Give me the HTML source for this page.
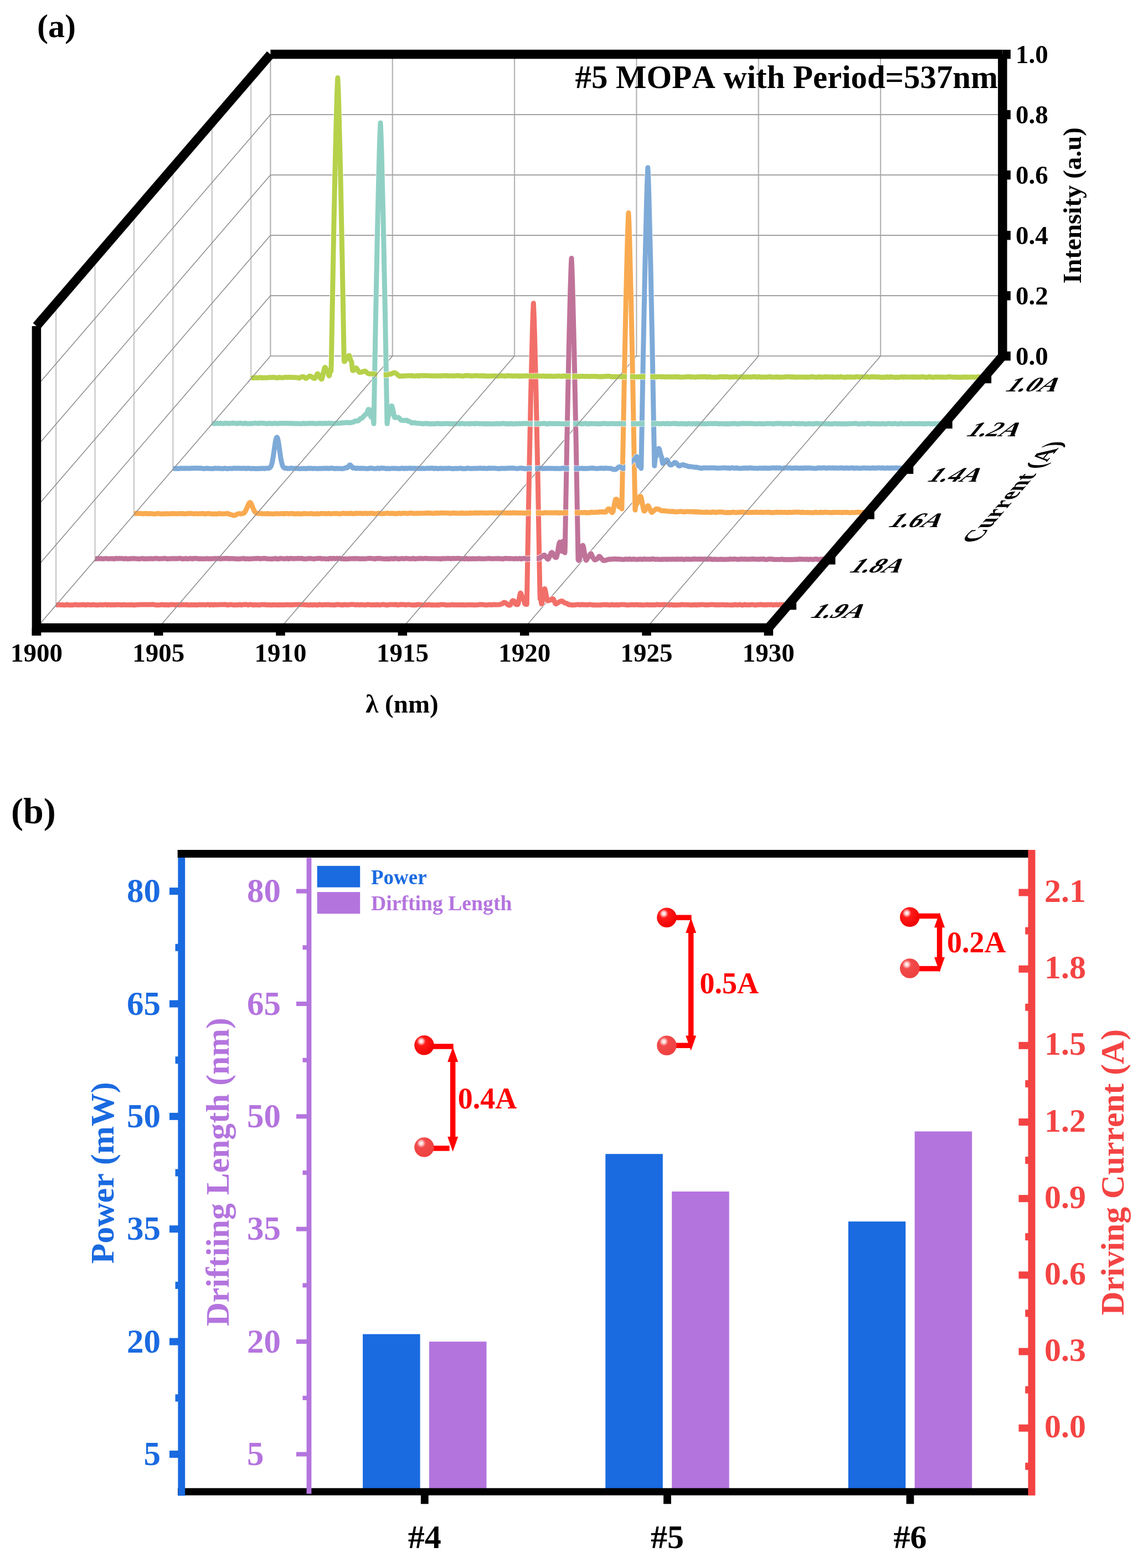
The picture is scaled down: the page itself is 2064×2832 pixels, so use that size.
<!DOCTYPE html>
<html><head><meta charset="utf-8"><title>Figure</title>
<style>html,body{margin:0;padding:0;background:#fff;}body{width:2064px;height:2832px;overflow:hidden;}svg{display:block;}text{font-kerning:none;}</style>
</head><body>
<svg width="2064" height="2832" viewBox="0 0 2064 2832">
<line x1="488.42" y1="643.08" x2="488.42" y2="98.08" stroke="#b4b4b4" stroke-width="2.2" stroke-linecap="butt" />
<line x1="708.75" y1="643.08" x2="708.75" y2="98.08" stroke="#b4b4b4" stroke-width="2.2" stroke-linecap="butt" />
<line x1="929.07" y1="643.08" x2="929.07" y2="98.08" stroke="#b4b4b4" stroke-width="2.2" stroke-linecap="butt" />
<line x1="1149.39" y1="643.08" x2="1149.39" y2="98.08" stroke="#b4b4b4" stroke-width="2.2" stroke-linecap="butt" />
<line x1="1369.72" y1="643.08" x2="1369.72" y2="98.08" stroke="#b4b4b4" stroke-width="2.2" stroke-linecap="butt" />
<line x1="1590.05" y1="643.08" x2="1590.05" y2="98.08" stroke="#b4b4b4" stroke-width="2.2" stroke-linecap="butt" />
<line x1="488.42" y1="534.08" x2="1810.37" y2="534.08" stroke="#a2a2a2" stroke-width="2.0" stroke-linecap="butt" />
<line x1="488.42" y1="425.08" x2="1810.37" y2="425.08" stroke="#a2a2a2" stroke-width="2.0" stroke-linecap="butt" />
<line x1="488.42" y1="316.08" x2="1810.37" y2="316.08" stroke="#a2a2a2" stroke-width="2.0" stroke-linecap="butt" />
<line x1="488.42" y1="207.08" x2="1810.37" y2="207.08" stroke="#a2a2a2" stroke-width="2.0" stroke-linecap="butt" />
<line x1="488.42" y1="643.08" x2="1810.37" y2="643.08" stroke="#8a8a8a" stroke-width="1.5" stroke-linecap="butt" />
<line x1="101.11" y1="1093.09" x2="101.11" y2="548.09" stroke="#c6c6c6" stroke-width="2.2" stroke-linecap="butt" />
<line x1="171.53" y1="1011.27" x2="171.53" y2="466.27" stroke="#c6c6c6" stroke-width="2.2" stroke-linecap="butt" />
<line x1="241.95" y1="929.45" x2="241.95" y2="384.45" stroke="#c6c6c6" stroke-width="2.2" stroke-linecap="butt" />
<line x1="312.37" y1="847.63" x2="312.37" y2="302.63" stroke="#c6c6c6" stroke-width="2.2" stroke-linecap="butt" />
<line x1="382.79" y1="765.81" x2="382.79" y2="220.81" stroke="#c6c6c6" stroke-width="2.2" stroke-linecap="butt" />
<line x1="453.21" y1="683.99" x2="453.21" y2="138.99" stroke="#c6c6c6" stroke-width="2.2" stroke-linecap="butt" />
<line x1="65.90" y1="1134.00" x2="488.42" y2="643.08" stroke="#8a8a8a" stroke-width="1.5" stroke-linecap="butt" />
<line x1="65.90" y1="1025.00" x2="488.42" y2="534.08" stroke="#8a8a8a" stroke-width="1.5" stroke-linecap="butt" />
<line x1="65.90" y1="916.00" x2="488.42" y2="425.08" stroke="#8a8a8a" stroke-width="1.5" stroke-linecap="butt" />
<line x1="65.90" y1="807.00" x2="488.42" y2="316.08" stroke="#8a8a8a" stroke-width="1.5" stroke-linecap="butt" />
<line x1="65.90" y1="698.00" x2="488.42" y2="207.08" stroke="#8a8a8a" stroke-width="1.5" stroke-linecap="butt" />
<line x1="286.23" y1="1134.00" x2="708.75" y2="643.08" stroke="#8a8a8a" stroke-width="1.5" stroke-linecap="butt" />
<line x1="506.55" y1="1134.00" x2="929.07" y2="643.08" stroke="#8a8a8a" stroke-width="1.5" stroke-linecap="butt" />
<line x1="726.87" y1="1134.00" x2="1149.39" y2="643.08" stroke="#8a8a8a" stroke-width="1.5" stroke-linecap="butt" />
<line x1="947.20" y1="1134.00" x2="1369.72" y2="643.08" stroke="#8a8a8a" stroke-width="1.5" stroke-linecap="butt" />
<line x1="1167.53" y1="1134.00" x2="1590.05" y2="643.08" stroke="#8a8a8a" stroke-width="1.5" stroke-linecap="butt" />
<path d="M101.1,1092.4 L103.1,1092.6 L106.1,1092.1 L109.1,1092.6 L112.1,1092.2 L114.6,1092.7 L118.1,1092.8 L121.1,1091.8 L123.6,1092.7 L130.1,1092.7 L133.6,1092.4 L136.1,1091.9 L138.6,1092.4 L145.1,1092.6 L151.1,1092.0 L154.1,1092.8 L156.6,1092.3 L159.6,1092.1 L162.6,1092.6 L166.1,1092.6 L169.1,1091.9 L171.6,1092.6 L175.1,1092.8 L178.6,1092.5 L181.1,1092.1 L183.6,1092.6 L184.6,1092.6 L187.6,1092.3 L190.1,1091.8 L193.1,1092.7 L196.1,1092.0 L199.1,1092.6 L205.1,1092.2 L208.1,1092.4 L211.1,1092.1 L214.1,1092.3 L217.2,1092.2 L220.2,1092.7 L223.2,1092.0 L225.7,1092.5 L229.2,1092.6 L238.2,1092.3 L241.2,1092.8 L244.2,1092.7 L246.7,1092.2 L250.2,1092.3 L252.7,1092.0 L271.2,1092.1 L274.7,1091.8 L277.2,1091.8 L279.7,1092.4 L285.2,1092.8 L289.2,1092.5 L292.2,1091.8 L294.7,1092.4 L301.2,1092.3 L304.2,1092.7 L306.7,1092.3 L309.7,1092.0 L313.2,1092.1 L316.2,1092.6 L322.2,1092.1 L325.2,1092.7 L327.7,1092.1 L331.7,1092.3 L337.2,1091.9 L339.7,1092.7 L343.2,1092.6 L346.2,1092.2 L348.7,1092.4 L352.2,1092.3 L355.2,1092.7 L357.7,1092.3 L361.2,1092.1 L364.2,1092.4 L366.7,1092.0 L370.2,1092.6 L375.7,1091.8 L376.7,1092.0 L378.2,1092.6 L379.2,1092.7 L381.7,1091.9 L385.2,1092.7 L387.7,1091.9 L390.7,1092.2 L393.7,1092.3 L396.7,1092.0 L403.2,1092.1 L406.2,1091.8 L411.7,1092.7 L412.7,1092.6 L414.7,1092.0 L417.7,1092.0 L418.7,1092.1 L420.7,1092.6 L423.7,1092.7 L426.7,1092.3 L430.2,1092.5 L433.2,1091.8 L435.2,1092.5 L436.2,1092.7 L438.7,1092.0 L444.7,1091.8 L448.2,1092.7 L450.2,1092.0 L451.2,1091.8 L454.2,1092.0 L456.7,1092.7 L460.2,1092.2 L462.7,1092.5 L466.2,1092.5 L469.2,1092.7 L471.2,1092.0 L472.2,1091.9 L478.2,1091.9 L480.7,1092.6 L484.2,1092.2 L487.2,1092.4 L490.2,1092.8 L493.2,1092.3 L499.2,1092.4 L501.7,1092.7 L504.7,1092.3 L508.2,1092.6 L510.7,1092.2 L513.8,1092.6 L519.8,1092.1 L522.8,1092.5 L526.3,1092.2 L528.8,1092.5 L531.8,1091.9 L538.3,1092.1 L546.8,1091.9 L558.8,1092.7 L561.8,1092.2 L565.3,1092.7 L568.3,1092.1 L570.3,1092.7 L571.3,1092.8 L574.3,1092.7 L576.8,1091.8 L577.8,1091.9 L579.8,1092.5 L583.3,1092.5 L585.8,1092.1 L588.8,1092.3 L592.3,1092.1 L597.3,1092.6 L601.3,1092.6 L603.8,1092.8 L609.8,1091.8 L618.8,1092.7 L619.8,1092.5 L621.8,1091.9 L628.3,1092.5 L634.3,1091.8 L637.3,1091.8 L642.8,1092.5 L645.8,1092.0 L649.3,1092.6 L652.3,1092.0 L655.3,1092.2 L657.8,1092.7 L661.3,1092.4 L663.8,1091.8 L669.8,1092.6 L675.8,1092.2 L679.3,1092.6 L681.3,1091.9 L682.3,1091.9 L684.8,1092.8 L688.3,1092.4 L690.8,1091.8 L694.3,1092.1 L696.8,1092.7 L699.8,1092.8 L702.8,1092.0 L705.8,1091.9 L709.3,1091.9 L711.8,1092.3 L714.8,1091.8 L715.8,1092.0 L717.8,1092.8 L724.3,1091.8 L730.3,1092.0 L732.8,1092.7 L735.8,1091.9 L739.3,1091.9 L741.3,1092.4 L744.8,1092.8 L747.8,1092.5 L751.3,1092.8 L753.3,1092.1 L756.8,1091.8 L759.3,1092.3 L762.8,1092.7 L765.8,1092.5 L772.3,1092.6 L774.8,1092.0 L777.8,1092.7 L780.8,1092.5 L783.8,1092.8 L786.8,1092.8 L789.8,1092.5 L792.8,1092.8 L793.8,1092.6 L795.3,1092.0 L796.3,1091.9 L802.3,1092.1 L804.9,1092.7 L814.4,1092.6 L816.9,1091.9 L819.9,1092.6 L825.9,1092.4 L831.9,1092.5 L834.9,1092.3 L837.9,1092.8 L844.4,1092.6 L846.9,1092.1 L849.9,1092.5 L853.4,1092.3 L855.9,1092.8 L861.9,1092.6 L864.9,1092.0 L867.9,1091.8 L871.4,1091.9 L873.4,1092.3 L877.4,1092.7 L880.4,1092.6 L882.9,1092.1 L888.9,1092.4 L891.9,1091.8 L894.9,1092.2 L900.4,1092.1 L902.4,1091.9 L906.9,1090.5 L909.4,1088.4 L910.4,1088.0 L911.9,1088.4 L914.4,1089.8 L916.9,1092.0 L917.9,1092.7 L919.9,1093.3 L920.9,1093.0 L921.9,1092.0 L924.9,1085.7 L925.9,1084.8 L926.4,1084.7 L927.4,1085.0 L928.4,1085.9 L930.9,1090.7 L931.4,1091.4 L932.4,1091.8 L934.9,1091.9 L935.4,1091.1 L935.9,1089.6 L938.9,1073.8 L939.4,1072.0 L939.9,1071.2 L940.4,1071.4 L941.4,1073.3 L943.9,1080.8 L944.4,1081.6 L944.9,1081.8 L945.4,1082.6 L947.4,1089.9 L947.9,1090.7 L948.9,1090.6 L949.4,1091.5 L951.3,1091.6 L954.9,889.7 L958.4,717.1 L961.4,597.0 L962.4,566.3 L963.3,547.8 L964.4,572.1 L965.4,604.1 L967.9,704.0 L971.4,874.3 L974.9,1069.2 L975.3,1081.4 L976.4,1081.5 L977.9,1090.8 L978.4,1090.3 L978.9,1088.5 L979.9,1082.9 L982.4,1066.1 L982.9,1064.1 L983.4,1063.3 L983.9,1063.8 L984.4,1065.2 L987.4,1080.5 L988.4,1084.2 L988.9,1085.0 L989.9,1084.9 L991.4,1084.4 L993.4,1084.1 L996.4,1081.8 L997.4,1081.5 L998.4,1081.4 L998.9,1081.8 L999.9,1083.3 L1002.4,1089.3 L1003.4,1090.7 L1003.9,1090.8 L1004.4,1090.6 L1009.9,1087.1 L1012.9,1085.8 L1013.9,1085.5 L1014.9,1085.7 L1016.9,1086.8 L1019.9,1089.1 L1022.4,1089.5 L1024.4,1090.3 L1026.9,1092.1 L1027.9,1092.3 L1030.4,1092.1 L1032.9,1092.8 L1039.4,1092.5 L1041.4,1092.0 L1044.4,1091.9 L1045.4,1091.9 L1047.9,1092.5 L1050.9,1091.8 L1053.4,1092.2 L1057.4,1092.2 L1059.9,1092.5 L1065.9,1091.8 L1068.4,1092.3 L1071.4,1092.7 L1074.9,1092.8 L1084.4,1092.8 L1089.9,1092.0 L1092.9,1092.3 L1095.9,1092.0 L1098.5,1092.5 L1102.0,1092.7 L1105.0,1091.9 L1108.0,1092.7 L1110.5,1092.4 L1114.0,1092.3 L1117.0,1092.8 L1120.0,1092.0 L1126.5,1092.0 L1129.5,1092.3 L1131.5,1092.7 L1134.5,1092.8 L1141.0,1092.0 L1144.0,1092.4 L1150.0,1091.9 L1152.5,1092.4 L1156.0,1092.3 L1159.0,1092.7 L1165.5,1092.5 L1168.0,1092.0 L1171.0,1092.6 L1177.0,1092.3 L1179.5,1092.6 L1183.0,1092.6 L1186.0,1091.8 L1189.0,1092.3 L1198.5,1091.9 L1207.5,1092.3 L1210.0,1092.7 L1213.0,1092.0 L1216.0,1092.8 L1219.0,1092.6 L1222.0,1092.8 L1225.0,1092.5 L1228.0,1092.6 L1231.0,1091.8 L1234.0,1092.2 L1240.0,1092.3 L1243.0,1092.2 L1245.5,1092.6 L1249.0,1092.8 L1255.0,1092.2 L1258.0,1092.8 L1261.0,1092.1 L1264.0,1092.4 L1267.0,1092.0 L1270.5,1092.1 L1273.0,1092.5 L1279.0,1092.6 L1281.5,1092.1 L1288.0,1091.9 L1291.0,1092.5 L1297.0,1092.2 L1300.0,1092.6 L1303.0,1092.1 L1308.5,1092.4 L1312.0,1092.3 L1315.0,1092.6 L1324.0,1092.8 L1327.0,1091.9 L1329.5,1092.5 L1330.5,1092.5 L1333.5,1092.4 L1336.0,1091.8 L1339.0,1092.8 L1342.5,1092.7 L1344.0,1092.0 L1345.0,1091.8 L1348.0,1092.6 L1351.0,1092.4 L1354.0,1092.5 L1356.5,1092.1 L1360.0,1092.1 L1363.0,1092.8 L1366.5,1092.7 L1369.0,1091.9 L1372.0,1092.3 L1375.0,1091.8 L1378.0,1092.6 L1381.0,1092.2 L1384.0,1092.6 L1387.0,1091.8 L1390.0,1092.4 L1393.0,1091.9 L1396.1,1092.8 L1398.6,1092.3 L1402.1,1092.0 L1405.1,1092.4 L1408.1,1091.9 L1411.1,1092.2 L1414.1,1091.9 L1417.1,1092.8 L1423.1,1092.0" fill="none" stroke="#fff" stroke-opacity="0.6" stroke-width="11.4" stroke-linejoin="round"/>
<path d="M101.1,1092.4 L103.1,1092.6 L106.1,1092.1 L109.1,1092.6 L112.1,1092.2 L114.6,1092.7 L118.1,1092.8 L121.1,1091.8 L123.6,1092.7 L130.1,1092.7 L133.6,1092.4 L136.1,1091.9 L138.6,1092.4 L145.1,1092.6 L151.1,1092.0 L154.1,1092.8 L156.6,1092.3 L159.6,1092.1 L162.6,1092.6 L166.1,1092.6 L169.1,1091.9 L171.6,1092.6 L175.1,1092.8 L178.6,1092.5 L181.1,1092.1 L183.6,1092.6 L184.6,1092.6 L187.6,1092.3 L190.1,1091.8 L193.1,1092.7 L196.1,1092.0 L199.1,1092.6 L205.1,1092.2 L208.1,1092.4 L211.1,1092.1 L214.1,1092.3 L217.2,1092.2 L220.2,1092.7 L223.2,1092.0 L225.7,1092.5 L229.2,1092.6 L238.2,1092.3 L241.2,1092.8 L244.2,1092.7 L246.7,1092.2 L250.2,1092.3 L252.7,1092.0 L271.2,1092.1 L274.7,1091.8 L277.2,1091.8 L279.7,1092.4 L285.2,1092.8 L289.2,1092.5 L292.2,1091.8 L294.7,1092.4 L301.2,1092.3 L304.2,1092.7 L306.7,1092.3 L309.7,1092.0 L313.2,1092.1 L316.2,1092.6 L322.2,1092.1 L325.2,1092.7 L327.7,1092.1 L331.7,1092.3 L337.2,1091.9 L339.7,1092.7 L343.2,1092.6 L346.2,1092.2 L348.7,1092.4 L352.2,1092.3 L355.2,1092.7 L357.7,1092.3 L361.2,1092.1 L364.2,1092.4 L366.7,1092.0 L370.2,1092.6 L375.7,1091.8 L376.7,1092.0 L378.2,1092.6 L379.2,1092.7 L381.7,1091.9 L385.2,1092.7 L387.7,1091.9 L390.7,1092.2 L393.7,1092.3 L396.7,1092.0 L403.2,1092.1 L406.2,1091.8 L411.7,1092.7 L412.7,1092.6 L414.7,1092.0 L417.7,1092.0 L418.7,1092.1 L420.7,1092.6 L423.7,1092.7 L426.7,1092.3 L430.2,1092.5 L433.2,1091.8 L435.2,1092.5 L436.2,1092.7 L438.7,1092.0 L444.7,1091.8 L448.2,1092.7 L450.2,1092.0 L451.2,1091.8 L454.2,1092.0 L456.7,1092.7 L460.2,1092.2 L462.7,1092.5 L466.2,1092.5 L469.2,1092.7 L471.2,1092.0 L472.2,1091.9 L478.2,1091.9 L480.7,1092.6 L484.2,1092.2 L487.2,1092.4 L490.2,1092.8 L493.2,1092.3 L499.2,1092.4 L501.7,1092.7 L504.7,1092.3 L508.2,1092.6 L510.7,1092.2 L513.8,1092.6 L519.8,1092.1 L522.8,1092.5 L526.3,1092.2 L528.8,1092.5 L531.8,1091.9 L538.3,1092.1 L546.8,1091.9 L558.8,1092.7 L561.8,1092.2 L565.3,1092.7 L568.3,1092.1 L570.3,1092.7 L571.3,1092.8 L574.3,1092.7 L576.8,1091.8 L577.8,1091.9 L579.8,1092.5 L583.3,1092.5 L585.8,1092.1 L588.8,1092.3 L592.3,1092.1 L597.3,1092.6 L601.3,1092.6 L603.8,1092.8 L609.8,1091.8 L618.8,1092.7 L619.8,1092.5 L621.8,1091.9 L628.3,1092.5 L634.3,1091.8 L637.3,1091.8 L642.8,1092.5 L645.8,1092.0 L649.3,1092.6 L652.3,1092.0 L655.3,1092.2 L657.8,1092.7 L661.3,1092.4 L663.8,1091.8 L669.8,1092.6 L675.8,1092.2 L679.3,1092.6 L681.3,1091.9 L682.3,1091.9 L684.8,1092.8 L688.3,1092.4 L690.8,1091.8 L694.3,1092.1 L696.8,1092.7 L699.8,1092.8 L702.8,1092.0 L705.8,1091.9 L709.3,1091.9 L711.8,1092.3 L714.8,1091.8 L715.8,1092.0 L717.8,1092.8 L724.3,1091.8 L730.3,1092.0 L732.8,1092.7 L735.8,1091.9 L739.3,1091.9 L741.3,1092.4 L744.8,1092.8 L747.8,1092.5 L751.3,1092.8 L753.3,1092.1 L756.8,1091.8 L759.3,1092.3 L762.8,1092.7 L765.8,1092.5 L772.3,1092.6 L774.8,1092.0 L777.8,1092.7 L780.8,1092.5 L783.8,1092.8 L786.8,1092.8 L789.8,1092.5 L792.8,1092.8 L793.8,1092.6 L795.3,1092.0 L796.3,1091.9 L802.3,1092.1 L804.9,1092.7 L814.4,1092.6 L816.9,1091.9 L819.9,1092.6 L825.9,1092.4 L831.9,1092.5 L834.9,1092.3 L837.9,1092.8 L844.4,1092.6 L846.9,1092.1 L849.9,1092.5 L853.4,1092.3 L855.9,1092.8 L861.9,1092.6 L864.9,1092.0 L867.9,1091.8 L871.4,1091.9 L873.4,1092.3 L877.4,1092.7 L880.4,1092.6 L882.9,1092.1 L888.9,1092.4 L891.9,1091.8 L894.9,1092.2 L900.4,1092.1 L902.4,1091.9 L906.9,1090.5 L909.4,1088.4 L910.4,1088.0 L911.9,1088.4 L914.4,1089.8 L916.9,1092.0 L917.9,1092.7 L919.9,1093.3 L920.9,1093.0 L921.9,1092.0 L924.9,1085.7 L925.9,1084.8 L926.4,1084.7 L927.4,1085.0 L928.4,1085.9 L930.9,1090.7 L931.4,1091.4 L932.4,1091.8 L934.9,1091.9 L935.4,1091.1 L935.9,1089.6 L938.9,1073.8 L939.4,1072.0 L939.9,1071.2 L940.4,1071.4 L941.4,1073.3 L943.9,1080.8 L944.4,1081.6 L944.9,1081.8 L945.4,1082.6 L947.4,1089.9 L947.9,1090.7 L948.9,1090.6 L949.4,1091.5 L951.3,1091.6 L954.9,889.7 L958.4,717.1 L961.4,597.0 L962.4,566.3 L963.3,547.8 L964.4,572.1 L965.4,604.1 L967.9,704.0 L971.4,874.3 L974.9,1069.2 L975.3,1081.4 L976.4,1081.5 L977.9,1090.8 L978.4,1090.3 L978.9,1088.5 L979.9,1082.9 L982.4,1066.1 L982.9,1064.1 L983.4,1063.3 L983.9,1063.8 L984.4,1065.2 L987.4,1080.5 L988.4,1084.2 L988.9,1085.0 L989.9,1084.9 L991.4,1084.4 L993.4,1084.1 L996.4,1081.8 L997.4,1081.5 L998.4,1081.4 L998.9,1081.8 L999.9,1083.3 L1002.4,1089.3 L1003.4,1090.7 L1003.9,1090.8 L1004.4,1090.6 L1009.9,1087.1 L1012.9,1085.8 L1013.9,1085.5 L1014.9,1085.7 L1016.9,1086.8 L1019.9,1089.1 L1022.4,1089.5 L1024.4,1090.3 L1026.9,1092.1 L1027.9,1092.3 L1030.4,1092.1 L1032.9,1092.8 L1039.4,1092.5 L1041.4,1092.0 L1044.4,1091.9 L1045.4,1091.9 L1047.9,1092.5 L1050.9,1091.8 L1053.4,1092.2 L1057.4,1092.2 L1059.9,1092.5 L1065.9,1091.8 L1068.4,1092.3 L1071.4,1092.7 L1074.9,1092.8 L1084.4,1092.8 L1089.9,1092.0 L1092.9,1092.3 L1095.9,1092.0 L1098.5,1092.5 L1102.0,1092.7 L1105.0,1091.9 L1108.0,1092.7 L1110.5,1092.4 L1114.0,1092.3 L1117.0,1092.8 L1120.0,1092.0 L1126.5,1092.0 L1129.5,1092.3 L1131.5,1092.7 L1134.5,1092.8 L1141.0,1092.0 L1144.0,1092.4 L1150.0,1091.9 L1152.5,1092.4 L1156.0,1092.3 L1159.0,1092.7 L1165.5,1092.5 L1168.0,1092.0 L1171.0,1092.6 L1177.0,1092.3 L1179.5,1092.6 L1183.0,1092.6 L1186.0,1091.8 L1189.0,1092.3 L1198.5,1091.9 L1207.5,1092.3 L1210.0,1092.7 L1213.0,1092.0 L1216.0,1092.8 L1219.0,1092.6 L1222.0,1092.8 L1225.0,1092.5 L1228.0,1092.6 L1231.0,1091.8 L1234.0,1092.2 L1240.0,1092.3 L1243.0,1092.2 L1245.5,1092.6 L1249.0,1092.8 L1255.0,1092.2 L1258.0,1092.8 L1261.0,1092.1 L1264.0,1092.4 L1267.0,1092.0 L1270.5,1092.1 L1273.0,1092.5 L1279.0,1092.6 L1281.5,1092.1 L1288.0,1091.9 L1291.0,1092.5 L1297.0,1092.2 L1300.0,1092.6 L1303.0,1092.1 L1308.5,1092.4 L1312.0,1092.3 L1315.0,1092.6 L1324.0,1092.8 L1327.0,1091.9 L1329.5,1092.5 L1330.5,1092.5 L1333.5,1092.4 L1336.0,1091.8 L1339.0,1092.8 L1342.5,1092.7 L1344.0,1092.0 L1345.0,1091.8 L1348.0,1092.6 L1351.0,1092.4 L1354.0,1092.5 L1356.5,1092.1 L1360.0,1092.1 L1363.0,1092.8 L1366.5,1092.7 L1369.0,1091.9 L1372.0,1092.3 L1375.0,1091.8 L1378.0,1092.6 L1381.0,1092.2 L1384.0,1092.6 L1387.0,1091.8 L1390.0,1092.4 L1393.0,1091.9 L1396.1,1092.8 L1398.6,1092.3 L1402.1,1092.0 L1405.1,1092.4 L1408.1,1091.9 L1411.1,1092.2 L1414.1,1091.9 L1417.1,1092.8 L1423.1,1092.0" fill="none" stroke="#f26f69" stroke-width="9.0" stroke-linejoin="round" stroke-linecap="butt"/>
<path d="M171.5,1009.2 L173.0,1009.4 L176.0,1008.7 L179.0,1009.2 L182.0,1008.6 L184.5,1009.3 L188.0,1009.2 L191.0,1008.6 L193.5,1009.0 L197.0,1009.3 L199.5,1008.9 L203.0,1008.9 L206.0,1009.5 L209.0,1008.5 L212.0,1009.0 L215.0,1008.6 L218.0,1008.8 L221.0,1008.7 L224.0,1009.5 L227.0,1008.7 L230.1,1009.5 L233.6,1009.3 L235.6,1008.8 L239.1,1009.0 L242.1,1008.6 L244.6,1009.1 L251.1,1009.5 L254.6,1009.1 L257.1,1008.6 L260.1,1009.4 L265.6,1009.1 L269.1,1009.2 L272.1,1008.7 L275.1,1009.4 L277.6,1008.9 L281.1,1008.6 L284.6,1008.8 L287.1,1009.4 L289.6,1008.9 L293.6,1008.9 L296.1,1008.5 L299.6,1008.8 L302.1,1009.4 L311.1,1008.7 L313.6,1009.1 L317.1,1008.8 L320.1,1009.1 L322.6,1008.6 L326.1,1008.5 L329.1,1009.4 L332.1,1009.3 L335.1,1008.6 L338.1,1009.4 L341.6,1009.1 L344.1,1008.5 L347.1,1009.4 L349.6,1008.6 L356.1,1008.7 L359.1,1009.5 L362.1,1009.0 L365.1,1009.4 L367.6,1009.1 L371.1,1009.2 L374.1,1008.8 L376.6,1009.2 L380.1,1009.3 L388.6,1008.7 L392.1,1008.9 L395.1,1008.6 L398.1,1009.4 L400.6,1008.9 L410.1,1008.5 L413.1,1009.2 L415.6,1008.8 L422.1,1008.9 L428.1,1009.5 L431.6,1009.5 L440.1,1008.6 L442.6,1009.5 L446.1,1009.1 L449.1,1009.5 L457.6,1008.9 L466.6,1008.6 L467.6,1008.7 L470.1,1009.3 L472.6,1008.8 L479.1,1008.5 L481.6,1009.2 L491.1,1009.5 L494.1,1009.3 L497.1,1008.5 L499.1,1009.3 L500.1,1009.5 L503.1,1009.4 L506.1,1008.5 L512.6,1009.2 L515.1,1009.2 L518.1,1008.5 L520.1,1009.3 L521.1,1009.5 L523.1,1008.7 L524.1,1008.5 L530.2,1009.1 L535.7,1008.7 L539.2,1008.6 L542.2,1008.8 L545.2,1008.5 L547.2,1009.2 L548.2,1009.4 L554.2,1009.2 L557.2,1008.7 L560.7,1008.8 L566.2,1009.4 L569.7,1009.1 L571.7,1008.7 L577.7,1008.5 L578.7,1008.6 L580.7,1009.3 L584.2,1008.9 L586.7,1009.3 L592.7,1009.5 L593.7,1009.4 L595.2,1008.7 L596.2,1008.5 L598.7,1009.1 L602.2,1008.5 L605.2,1009.1 L607.7,1008.6 L611.2,1008.8 L614.2,1008.5 L616.7,1009.2 L623.2,1009.5 L629.2,1009.4 L631.7,1008.9 L635.2,1009.1 L641.2,1008.7 L644.2,1009.0 L647.2,1008.8 L649.7,1009.4 L653.2,1009.1 L656.2,1009.3 L659.7,1009.2 L664.7,1008.6 L668.2,1008.5 L674.2,1008.9 L677.2,1009.5 L679.2,1008.7 L680.2,1008.5 L683.2,1008.8 L686.2,1008.5 L688.7,1009.1 L694.7,1009.4 L700.7,1009.2 L704.2,1009.4 L707.2,1008.7 L709.2,1009.3 L710.2,1009.4 L712.2,1008.7 L713.2,1008.6 L716.7,1008.9 L718.7,1009.4 L721.7,1009.4 L725.2,1008.7 L727.7,1009.2 L734.2,1008.6 L739.7,1009.3 L743.2,1009.3 L745.2,1008.6 L746.2,1008.5 L748.2,1009.3 L749.2,1009.5 L751.7,1008.9 L755.2,1009.1 L757.7,1008.6 L764.2,1009.1 L766.7,1008.6 L769.7,1008.6 L772.7,1008.9 L784.7,1009.1 L788.2,1009.0 L790.7,1009.2 L794.2,1008.9 L796.7,1009.5 L797.7,1009.4 L799.7,1008.6 L802.7,1009.1 L809.2,1008.6 L812.2,1008.8 L814.7,1009.2 L818.2,1008.5 L821.3,1008.8 L826.8,1008.5 L830.3,1008.5 L832.8,1009.3 L836.3,1008.9 L838.8,1009.5 L839.8,1009.3 L841.8,1008.5 L842.8,1008.7 L844.3,1009.4 L845.3,1009.5 L847.8,1009.2 L853.8,1008.9 L860.3,1009.2 L865.8,1008.7 L868.8,1009.3 L872.3,1009.3 L878.3,1009.0 L881.3,1008.6 L884.3,1008.7 L886.8,1009.2 L889.8,1008.9 L893.3,1009.1 L899.3,1008.8 L907.8,1009.5 L910.8,1008.8 L913.8,1008.5 L916.8,1008.9 L920.3,1008.7 L928.8,1009.2 L932.3,1008.8 L934.8,1009.3 L938.3,1008.6 L940.8,1009.5 L941.8,1009.4 L943.8,1008.8 L946.8,1008.5 L949.8,1009.2 L952.3,1009.4 L953.3,1009.4 L955.8,1008.8 L958.8,1009.4 L961.8,1009.4 L964.8,1008.7 L970.8,1008.5 L972.8,1008.8 L973.8,1008.8 L974.8,1008.2 L977.3,1005.8 L979.8,1004.7 L981.8,1002.9 L982.8,1002.5 L983.3,1002.7 L984.3,1003.7 L988.3,1009.4 L989.3,1010.0 L989.8,1009.9 L990.8,1008.6 L992.3,1005.5 L994.8,999.4 L995.3,998.5 L995.8,998.0 L996.3,997.8 L997.3,998.2 L998.3,999.3 L1001.3,1005.0 L1002.3,1006.3 L1003.8,1007.0 L1004.3,1007.0 L1004.8,1006.5 L1005.3,1005.3 L1006.3,1001.4 L1009.3,983.3 L1009.8,981.3 L1010.3,980.0 L1010.8,979.3 L1011.3,979.6 L1011.8,981.1 L1013.8,992.5 L1014.3,994.7 L1014.8,995.8 L1015.3,992.7 L1015.8,982.0 L1016.3,977.7 L1016.8,979.3 L1017.3,982.4 L1018.8,994.1 L1019.3,996.8 L1020.0,998.3 L1020.3,991.0 L1023.8,796.1 L1027.3,625.5 L1029.8,525.1 L1031.3,479.2 L1032.0,466.4 L1032.8,482.9 L1033.8,513.0 L1036.8,632.0 L1040.3,803.8 L1044.0,1010.9 L1044.3,1011.4 L1044.8,1012.0 L1045.3,1012.2 L1045.8,1011.8 L1046.8,1008.6 L1048.3,1002.5 L1050.8,989.0 L1051.8,985.7 L1052.3,985.1 L1052.8,985.5 L1053.8,989.0 L1056.8,1006.8 L1057.8,1011.0 L1058.3,1011.9 L1058.8,1011.8 L1059.3,1011.2 L1061.3,1007.8 L1063.8,1004.7 L1065.8,1000.9 L1066.8,999.9 L1067.3,1000.0 L1067.8,1000.6 L1070.8,1007.3 L1073.3,1010.7 L1073.8,1011.1 L1074.8,1011.2 L1078.3,1009.5 L1079.3,1008.4 L1081.3,1005.4 L1081.8,1004.9 L1082.3,1004.8 L1083.3,1005.4 L1085.3,1008.0 L1088.8,1011.8 L1089.3,1012.2 L1090.3,1012.4 L1093.3,1012.0 L1096.8,1011.0 L1099.8,1009.9 L1102.8,1010.3 L1105.8,1009.7 L1111.8,1009.5 L1114.9,1010.0 L1118.4,1009.8 L1123.4,1010.4 L1126.9,1010.5 L1129.9,1009.7 L1132.9,1010.3 L1135.9,1009.5 L1138.9,1010.2 L1141.9,1009.9 L1144.9,1009.8 L1148.4,1010.4 L1151.4,1010.3 L1156.9,1009.8 L1159.9,1010.4 L1162.9,1009.6 L1165.9,1009.9 L1172.4,1010.0 L1174.9,1010.2 L1177.4,1009.6 L1178.4,1009.5 L1181.4,1009.8 L1183.9,1010.4 L1186.9,1009.8 L1189.4,1010.3 L1192.9,1010.6 L1195.9,1010.0 L1198.9,1010.3 L1201.9,1009.9 L1204.9,1010.5 L1207.9,1009.9 L1210.9,1010.3 L1213.9,1009.9 L1217.4,1010.0 L1219.9,1010.4 L1222.9,1009.7 L1225.9,1010.1 L1229.4,1010.0 L1231.9,1009.8 L1234.9,1010.6 L1237.9,1009.9 L1241.4,1009.8 L1247.4,1010.3 L1250.4,1010.1 L1252.9,1009.5 L1258.9,1010.0 L1264.9,1009.7 L1270.9,1010.0 L1273.9,1009.7 L1276.9,1010.1 L1282.9,1009.6 L1285.9,1010.6 L1288.9,1010.0 L1297.9,1010.4 L1301.4,1010.0 L1304.4,1010.2 L1306.9,1010.6 L1309.9,1010.2 L1316.4,1010.2 L1318.9,1009.6 L1321.9,1010.1 L1324.9,1009.7 L1327.9,1009.7 L1330.9,1010.3 L1333.9,1010.4 L1336.4,1009.8 L1339.4,1009.7 L1342.9,1010.1 L1345.9,1009.8 L1348.9,1010.2 L1351.9,1009.9 L1355.4,1010.0 L1357.9,1009.6 L1360.9,1009.7 L1363.9,1010.0 L1367.4,1010.0 L1369.9,1010.3 L1372.9,1009.8 L1375.9,1009.9 L1378.9,1009.6 L1381.4,1010.4 L1384.4,1010.6 L1385.4,1010.6 L1387.9,1009.7 L1390.9,1009.7 L1394.4,1009.7 L1396.9,1010.6 L1409.0,1010.4 L1412.0,1009.9 L1415.0,1010.7 L1418.0,1010.4 L1424.0,1010.7 L1427.0,1010.4 L1430.0,1010.7 L1436.0,1010.2 L1439.0,1010.5 L1442.0,1009.8 L1448.5,1010.0 L1451.0,1010.3 L1457.0,1010.0 L1460.0,1010.7 L1463.0,1009.9 L1465.5,1010.3 L1469.0,1010.6 L1471.5,1009.7 L1475.0,1009.7 L1478.0,1010.6 L1480.5,1010.2 L1487.0,1009.8 L1490.0,1010.3 L1492.5,1009.8 L1493.5,1009.8" fill="none" stroke="#fff" stroke-opacity="0.6" stroke-width="11.4" stroke-linejoin="round"/>
<path d="M171.5,1009.2 L173.0,1009.4 L176.0,1008.7 L179.0,1009.2 L182.0,1008.6 L184.5,1009.3 L188.0,1009.2 L191.0,1008.6 L193.5,1009.0 L197.0,1009.3 L199.5,1008.9 L203.0,1008.9 L206.0,1009.5 L209.0,1008.5 L212.0,1009.0 L215.0,1008.6 L218.0,1008.8 L221.0,1008.7 L224.0,1009.5 L227.0,1008.7 L230.1,1009.5 L233.6,1009.3 L235.6,1008.8 L239.1,1009.0 L242.1,1008.6 L244.6,1009.1 L251.1,1009.5 L254.6,1009.1 L257.1,1008.6 L260.1,1009.4 L265.6,1009.1 L269.1,1009.2 L272.1,1008.7 L275.1,1009.4 L277.6,1008.9 L281.1,1008.6 L284.6,1008.8 L287.1,1009.4 L289.6,1008.9 L293.6,1008.9 L296.1,1008.5 L299.6,1008.8 L302.1,1009.4 L311.1,1008.7 L313.6,1009.1 L317.1,1008.8 L320.1,1009.1 L322.6,1008.6 L326.1,1008.5 L329.1,1009.4 L332.1,1009.3 L335.1,1008.6 L338.1,1009.4 L341.6,1009.1 L344.1,1008.5 L347.1,1009.4 L349.6,1008.6 L356.1,1008.7 L359.1,1009.5 L362.1,1009.0 L365.1,1009.4 L367.6,1009.1 L371.1,1009.2 L374.1,1008.8 L376.6,1009.2 L380.1,1009.3 L388.6,1008.7 L392.1,1008.9 L395.1,1008.6 L398.1,1009.4 L400.6,1008.9 L410.1,1008.5 L413.1,1009.2 L415.6,1008.8 L422.1,1008.9 L428.1,1009.5 L431.6,1009.5 L440.1,1008.6 L442.6,1009.5 L446.1,1009.1 L449.1,1009.5 L457.6,1008.9 L466.6,1008.6 L467.6,1008.7 L470.1,1009.3 L472.6,1008.8 L479.1,1008.5 L481.6,1009.2 L491.1,1009.5 L494.1,1009.3 L497.1,1008.5 L499.1,1009.3 L500.1,1009.5 L503.1,1009.4 L506.1,1008.5 L512.6,1009.2 L515.1,1009.2 L518.1,1008.5 L520.1,1009.3 L521.1,1009.5 L523.1,1008.7 L524.1,1008.5 L530.2,1009.1 L535.7,1008.7 L539.2,1008.6 L542.2,1008.8 L545.2,1008.5 L547.2,1009.2 L548.2,1009.4 L554.2,1009.2 L557.2,1008.7 L560.7,1008.8 L566.2,1009.4 L569.7,1009.1 L571.7,1008.7 L577.7,1008.5 L578.7,1008.6 L580.7,1009.3 L584.2,1008.9 L586.7,1009.3 L592.7,1009.5 L593.7,1009.4 L595.2,1008.7 L596.2,1008.5 L598.7,1009.1 L602.2,1008.5 L605.2,1009.1 L607.7,1008.6 L611.2,1008.8 L614.2,1008.5 L616.7,1009.2 L623.2,1009.5 L629.2,1009.4 L631.7,1008.9 L635.2,1009.1 L641.2,1008.7 L644.2,1009.0 L647.2,1008.8 L649.7,1009.4 L653.2,1009.1 L656.2,1009.3 L659.7,1009.2 L664.7,1008.6 L668.2,1008.5 L674.2,1008.9 L677.2,1009.5 L679.2,1008.7 L680.2,1008.5 L683.2,1008.8 L686.2,1008.5 L688.7,1009.1 L694.7,1009.4 L700.7,1009.2 L704.2,1009.4 L707.2,1008.7 L709.2,1009.3 L710.2,1009.4 L712.2,1008.7 L713.2,1008.6 L716.7,1008.9 L718.7,1009.4 L721.7,1009.4 L725.2,1008.7 L727.7,1009.2 L734.2,1008.6 L739.7,1009.3 L743.2,1009.3 L745.2,1008.6 L746.2,1008.5 L748.2,1009.3 L749.2,1009.5 L751.7,1008.9 L755.2,1009.1 L757.7,1008.6 L764.2,1009.1 L766.7,1008.6 L769.7,1008.6 L772.7,1008.9 L784.7,1009.1 L788.2,1009.0 L790.7,1009.2 L794.2,1008.9 L796.7,1009.5 L797.7,1009.4 L799.7,1008.6 L802.7,1009.1 L809.2,1008.6 L812.2,1008.8 L814.7,1009.2 L818.2,1008.5 L821.3,1008.8 L826.8,1008.5 L830.3,1008.5 L832.8,1009.3 L836.3,1008.9 L838.8,1009.5 L839.8,1009.3 L841.8,1008.5 L842.8,1008.7 L844.3,1009.4 L845.3,1009.5 L847.8,1009.2 L853.8,1008.9 L860.3,1009.2 L865.8,1008.7 L868.8,1009.3 L872.3,1009.3 L878.3,1009.0 L881.3,1008.6 L884.3,1008.7 L886.8,1009.2 L889.8,1008.9 L893.3,1009.1 L899.3,1008.8 L907.8,1009.5 L910.8,1008.8 L913.8,1008.5 L916.8,1008.9 L920.3,1008.7 L928.8,1009.2 L932.3,1008.8 L934.8,1009.3 L938.3,1008.6 L940.8,1009.5 L941.8,1009.4 L943.8,1008.8 L946.8,1008.5 L949.8,1009.2 L952.3,1009.4 L953.3,1009.4 L955.8,1008.8 L958.8,1009.4 L961.8,1009.4 L964.8,1008.7 L970.8,1008.5 L972.8,1008.8 L973.8,1008.8 L974.8,1008.2 L977.3,1005.8 L979.8,1004.7 L981.8,1002.9 L982.8,1002.5 L983.3,1002.7 L984.3,1003.7 L988.3,1009.4 L989.3,1010.0 L989.8,1009.9 L990.8,1008.6 L992.3,1005.5 L994.8,999.4 L995.3,998.5 L995.8,998.0 L996.3,997.8 L997.3,998.2 L998.3,999.3 L1001.3,1005.0 L1002.3,1006.3 L1003.8,1007.0 L1004.3,1007.0 L1004.8,1006.5 L1005.3,1005.3 L1006.3,1001.4 L1009.3,983.3 L1009.8,981.3 L1010.3,980.0 L1010.8,979.3 L1011.3,979.6 L1011.8,981.1 L1013.8,992.5 L1014.3,994.7 L1014.8,995.8 L1015.3,992.7 L1015.8,982.0 L1016.3,977.7 L1016.8,979.3 L1017.3,982.4 L1018.8,994.1 L1019.3,996.8 L1020.0,998.3 L1020.3,991.0 L1023.8,796.1 L1027.3,625.5 L1029.8,525.1 L1031.3,479.2 L1032.0,466.4 L1032.8,482.9 L1033.8,513.0 L1036.8,632.0 L1040.3,803.8 L1044.0,1010.9 L1044.3,1011.4 L1044.8,1012.0 L1045.3,1012.2 L1045.8,1011.8 L1046.8,1008.6 L1048.3,1002.5 L1050.8,989.0 L1051.8,985.7 L1052.3,985.1 L1052.8,985.5 L1053.8,989.0 L1056.8,1006.8 L1057.8,1011.0 L1058.3,1011.9 L1058.8,1011.8 L1059.3,1011.2 L1061.3,1007.8 L1063.8,1004.7 L1065.8,1000.9 L1066.8,999.9 L1067.3,1000.0 L1067.8,1000.6 L1070.8,1007.3 L1073.3,1010.7 L1073.8,1011.1 L1074.8,1011.2 L1078.3,1009.5 L1079.3,1008.4 L1081.3,1005.4 L1081.8,1004.9 L1082.3,1004.8 L1083.3,1005.4 L1085.3,1008.0 L1088.8,1011.8 L1089.3,1012.2 L1090.3,1012.4 L1093.3,1012.0 L1096.8,1011.0 L1099.8,1009.9 L1102.8,1010.3 L1105.8,1009.7 L1111.8,1009.5 L1114.9,1010.0 L1118.4,1009.8 L1123.4,1010.4 L1126.9,1010.5 L1129.9,1009.7 L1132.9,1010.3 L1135.9,1009.5 L1138.9,1010.2 L1141.9,1009.9 L1144.9,1009.8 L1148.4,1010.4 L1151.4,1010.3 L1156.9,1009.8 L1159.9,1010.4 L1162.9,1009.6 L1165.9,1009.9 L1172.4,1010.0 L1174.9,1010.2 L1177.4,1009.6 L1178.4,1009.5 L1181.4,1009.8 L1183.9,1010.4 L1186.9,1009.8 L1189.4,1010.3 L1192.9,1010.6 L1195.9,1010.0 L1198.9,1010.3 L1201.9,1009.9 L1204.9,1010.5 L1207.9,1009.9 L1210.9,1010.3 L1213.9,1009.9 L1217.4,1010.0 L1219.9,1010.4 L1222.9,1009.7 L1225.9,1010.1 L1229.4,1010.0 L1231.9,1009.8 L1234.9,1010.6 L1237.9,1009.9 L1241.4,1009.8 L1247.4,1010.3 L1250.4,1010.1 L1252.9,1009.5 L1258.9,1010.0 L1264.9,1009.7 L1270.9,1010.0 L1273.9,1009.7 L1276.9,1010.1 L1282.9,1009.6 L1285.9,1010.6 L1288.9,1010.0 L1297.9,1010.4 L1301.4,1010.0 L1304.4,1010.2 L1306.9,1010.6 L1309.9,1010.2 L1316.4,1010.2 L1318.9,1009.6 L1321.9,1010.1 L1324.9,1009.7 L1327.9,1009.7 L1330.9,1010.3 L1333.9,1010.4 L1336.4,1009.8 L1339.4,1009.7 L1342.9,1010.1 L1345.9,1009.8 L1348.9,1010.2 L1351.9,1009.9 L1355.4,1010.0 L1357.9,1009.6 L1360.9,1009.7 L1363.9,1010.0 L1367.4,1010.0 L1369.9,1010.3 L1372.9,1009.8 L1375.9,1009.9 L1378.9,1009.6 L1381.4,1010.4 L1384.4,1010.6 L1385.4,1010.6 L1387.9,1009.7 L1390.9,1009.7 L1394.4,1009.7 L1396.9,1010.6 L1409.0,1010.4 L1412.0,1009.9 L1415.0,1010.7 L1418.0,1010.4 L1424.0,1010.7 L1427.0,1010.4 L1430.0,1010.7 L1436.0,1010.2 L1439.0,1010.5 L1442.0,1009.8 L1448.5,1010.0 L1451.0,1010.3 L1457.0,1010.0 L1460.0,1010.7 L1463.0,1009.9 L1465.5,1010.3 L1469.0,1010.6 L1471.5,1009.7 L1475.0,1009.7 L1478.0,1010.6 L1480.5,1010.2 L1487.0,1009.8 L1490.0,1010.3 L1492.5,1009.8 L1493.5,1009.8" fill="none" stroke="#c07399" stroke-width="9.0" stroke-linejoin="round" stroke-linecap="butt"/>
<path d="M241.9,927.5 L246.0,927.2 L255.0,927.4 L258.0,928.1 L260.5,927.5 L264.0,927.3 L267.0,928.0 L270.5,927.5 L273.5,927.7 L279.0,928.2 L282.5,928.1 L285.0,927.2 L287.5,927.8 L291.0,928.2 L300.0,927.8 L306.0,927.9 L312.0,927.4 L321.0,927.9 L324.0,927.4 L327.0,927.7 L330.0,927.4 L333.0,928.1 L336.5,927.9 L339.0,927.3 L342.0,927.7 L345.0,927.3 L351.0,928.1 L354.0,927.6 L357.0,928.1 L366.0,927.6 L372.0,928.2 L374.5,927.5 L378.0,927.4 L380.5,928.0 L383.5,928.2 L387.0,927.9 L393.0,928.2 L396.0,927.2 L398.5,928.0 L402.0,928.1 L408.5,927.7 L411.0,927.3 L414.0,928.8 L416.5,929.3 L421.5,930.8 L423.0,931.0 L426.0,930.0 L428.5,928.5 L430.5,927.9 L432.0,927.7 L434.5,928.2 L435.5,928.2 L439.5,927.2 L441.0,926.4 L442.5,924.5 L445.0,919.7 L448.5,911.3 L449.5,909.3 L450.5,908.1 L451.5,907.6 L452.5,908.1 L454.0,910.5 L457.5,919.4 L459.0,922.7 L460.5,924.8 L462.0,926.2 L463.5,926.9 L466.0,927.4 L471.0,927.5 L474.0,928.0 L477.0,927.6 L480.0,928.2 L483.0,927.5 L485.5,928.1 L489.0,927.9 L492.0,928.3 L495.5,928.1 L498.0,927.7 L501.0,927.7 L504.0,928.0 L510.0,927.5 L513.0,928.2 L516.0,927.4 L519.5,927.6 L522.0,928.0 L524.5,927.5 L528.0,927.5 L531.0,928.2 L533.5,927.9 L540.1,927.7 L543.1,928.3 L549.1,927.5 L555.1,927.9 L558.1,927.8 L561.1,927.5 L564.6,927.8 L567.1,928.3 L569.6,927.9 L572.6,927.8 L576.1,928.1 L579.1,927.5 L582.1,927.6 L585.1,927.5 L587.6,927.8 L591.1,927.7 L594.1,927.2 L597.1,928.0 L602.6,927.4 L606.1,927.4 L609.1,927.4 L612.1,928.0 L615.1,928.0 L617.6,927.3 L621.1,927.1 L623.6,927.5 L630.1,927.5 L633.1,927.0 L635.6,927.6 L639.1,927.8 L642.1,927.0 L647.6,927.2 L651.1,927.1 L654.1,927.6 L656.6,927.2 L660.1,926.9 L663.1,927.7 L665.6,927.2 L669.1,927.3 L672.1,926.9 L675.1,927.7 L681.1,927.5 L684.1,927.0 L686.6,927.5 L690.1,927.8 L693.6,927.6 L699.1,926.8 L702.6,927.2 L705.1,927.7 L708.1,926.9 L711.1,927.7 L714.1,927.5 L717.1,927.7 L720.1,926.8 L723.1,927.7 L726.1,927.0 L732.1,926.9 L735.1,927.4 L738.6,927.1 L741.1,926.6 L744.6,926.9 L747.1,927.4 L753.1,927.1 L756.1,927.3 L758.6,926.9 L765.6,927.0 L774.1,926.4 L777.6,926.7 L783.1,927.4 L785.6,926.8 L788.6,926.6 L792.1,926.9 L794.6,926.6 L801.1,926.4 L810.1,926.7 L813.1,927.2 L819.1,926.5 L824.6,927.0 L831.2,927.1 L834.2,926.2 L836.2,927.0 L837.2,927.2 L842.7,926.7 L846.2,927.1 L849.2,926.4 L855.2,926.8 L858.2,926.1 L861.2,926.8 L863.7,926.3 L867.2,926.6 L870.2,926.1 L872.7,926.6 L876.2,926.4 L879.2,926.7 L888.2,926.0 L891.2,926.7 L894.2,926.6 L897.2,926.1 L900.2,926.8 L903.2,926.6 L906.2,926.0 L914.7,926.6 L921.2,926.3 L924.2,926.7 L927.2,925.9 L932.7,926.4 L936.2,926.4 L939.2,926.2 L941.7,926.4 L945.2,926.4 L948.2,926.8 L951.7,926.5 L953.7,926.0 L957.2,926.4 L968.7,925.8 L969.7,925.9 L971.2,926.6 L972.2,926.7 L974.2,926.0 L975.2,925.9 L977.7,926.6 L980.7,926.8 L981.7,926.6 L983.2,926.0 L984.2,925.8 L989.7,926.2 L996.2,926.0 L999.2,926.4 L1005.2,925.7 L1007.2,926.5 L1008.2,926.7 L1011.2,926.0 L1017.2,926.6 L1019.2,925.9 L1020.2,925.7 L1023.2,925.8 L1025.7,926.3 L1029.2,925.9 L1032.2,926.6 L1035.2,926.4 L1037.7,925.9 L1041.2,926.1 L1044.2,925.8 L1047.2,926.2 L1049.7,925.7 L1053.2,925.9 L1056.2,925.4 L1058.2,926.2 L1059.2,926.3 L1061.7,925.7 L1065.2,926.0 L1067.7,925.1 L1068.7,925.1 L1070.7,925.6 L1074.2,925.4 L1077.2,925.0 L1080.2,925.2 L1082.7,924.4 L1086.2,924.9 L1088.7,924.1 L1089.7,924.3 L1091.7,925.2 L1092.7,925.1 L1093.7,924.8 L1094.7,924.1 L1095.7,922.9 L1097.7,919.7 L1098.7,919.0 L1099.7,919.2 L1101.2,920.0 L1102.2,921.3 L1104.2,924.8 L1104.7,925.4 L1105.2,925.7 L1105.7,925.7 L1106.2,925.4 L1107.2,922.8 L1110.7,904.5 L1111.7,901.8 L1112.7,901.5 L1113.7,901.8 L1115.7,903.5 L1116.2,905.3 L1117.7,915.1 L1118.2,915.7 L1118.7,914.1 L1120.2,905.5 L1120.7,903.7 L1121.2,904.9 L1121.7,907.8 L1122.9,919.1 L1127.3,685.6 L1130.3,541.8 L1132.8,441.9 L1133.8,409.8 L1134.9,384.5 L1135.8,401.8 L1136.8,432.0 L1139.8,551.0 L1142.8,696.3 L1146.9,921.1 L1147.8,913.5 L1148.3,911.1 L1148.8,910.9 L1149.3,911.2 L1150.3,909.7 L1152.3,905.1 L1154.8,897.5 L1155.3,896.6 L1155.8,896.2 L1156.3,896.2 L1156.8,896.5 L1157.3,897.1 L1158.3,900.5 L1161.8,919.5 L1162.8,922.8 L1163.3,923.1 L1163.8,923.0 L1164.3,922.6 L1165.3,921.2 L1168.8,914.6 L1169.8,913.5 L1170.3,913.4 L1170.8,913.9 L1171.3,914.7 L1175.3,923.5 L1176.3,925.1 L1176.8,925.4 L1177.3,925.3 L1179.3,923.5 L1181.3,922.2 L1182.8,920.6 L1183.8,919.8 L1187.3,919.2 L1190.8,920.3 L1193.3,922.0 L1194.8,922.5 L1196.8,922.6 L1200.3,922.5 L1202.8,923.1 L1206.3,923.2 L1209.3,923.7 L1212.3,923.8 L1215.3,923.6 L1217.8,924.4 L1224.3,924.3 L1229.8,923.6 L1230.8,923.8 L1232.3,924.4 L1233.3,924.6 L1236.3,924.6 L1238.8,924.0 L1242.3,923.9 L1248.3,924.3 L1250.8,923.9 L1251.8,924.1 L1253.8,924.9 L1254.8,924.8 L1256.8,924.1 L1257.8,924.3 L1259.8,925.1 L1262.8,924.5 L1265.8,925.2 L1269.3,925.2 L1271.8,925.5 L1272.8,925.3 L1274.8,924.7 L1277.8,925.3 L1281.3,925.3 L1283.8,925.5 L1286.8,924.8 L1287.8,924.8 L1290.3,925.0 L1292.8,925.7 L1293.8,925.6 L1295.3,924.9 L1296.3,924.8 L1302.3,924.8 L1305.3,925.0 L1307.8,925.6 L1310.8,925.7 L1314.3,925.5 L1320.3,925.7 L1322.3,925.2 L1323.3,925.1 L1326.3,925.2 L1328.8,925.8 L1340.8,924.8 L1341.8,925.0 L1343.8,925.8 L1347.3,925.2 L1350.3,925.4 L1352.8,925.8 L1358.8,925.2 L1362.3,925.5 L1364.8,924.9 L1370.8,925.4 L1374.3,925.1 L1376.8,925.7 L1379.8,925.2 L1382.8,925.3 L1388.8,925.1 L1391.8,925.9 L1394.8,925.6 L1397.8,925.9 L1400.8,925.2 L1403.8,925.0 L1406.8,925.6 L1409.8,925.0 L1412.8,925.4 L1419.4,925.3 L1421.9,925.9 L1422.9,925.7 L1424.9,925.0 L1428.4,925.6 L1431.4,925.5 L1433.9,925.0 L1437.4,925.1 L1442.9,924.9 L1443.9,925.1 L1445.9,925.9 L1446.9,925.7 L1448.9,924.9 L1451.9,925.8 L1455.4,925.4 L1469.9,925.9 L1472.9,925.0 L1475.9,925.8 L1479.4,925.7 L1481.4,925.1 L1482.4,925.1 L1484.9,925.8 L1490.9,925.0 L1493.9,925.6 L1497.4,925.4 L1502.9,925.9 L1505.9,925.2 L1508.9,925.6 L1512.4,925.5 L1515.4,925.2 L1518.4,925.4 L1520.9,926.0 L1523.9,925.2 L1526.9,925.4 L1530.4,925.2 L1532.4,925.8 L1535.9,926.0 L1538.9,925.4 L1541.9,925.9 L1544.9,925.4 L1550.9,925.1 L1553.9,926.0 L1556.9,925.3 L1559.9,925.6 L1563.9,925.2" fill="none" stroke="#fff" stroke-opacity="0.6" stroke-width="11.4" stroke-linejoin="round"/>
<path d="M241.9,927.5 L246.0,927.2 L255.0,927.4 L258.0,928.1 L260.5,927.5 L264.0,927.3 L267.0,928.0 L270.5,927.5 L273.5,927.7 L279.0,928.2 L282.5,928.1 L285.0,927.2 L287.5,927.8 L291.0,928.2 L300.0,927.8 L306.0,927.9 L312.0,927.4 L321.0,927.9 L324.0,927.4 L327.0,927.7 L330.0,927.4 L333.0,928.1 L336.5,927.9 L339.0,927.3 L342.0,927.7 L345.0,927.3 L351.0,928.1 L354.0,927.6 L357.0,928.1 L366.0,927.6 L372.0,928.2 L374.5,927.5 L378.0,927.4 L380.5,928.0 L383.5,928.2 L387.0,927.9 L393.0,928.2 L396.0,927.2 L398.5,928.0 L402.0,928.1 L408.5,927.7 L411.0,927.3 L414.0,928.8 L416.5,929.3 L421.5,930.8 L423.0,931.0 L426.0,930.0 L428.5,928.5 L430.5,927.9 L432.0,927.7 L434.5,928.2 L435.5,928.2 L439.5,927.2 L441.0,926.4 L442.5,924.5 L445.0,919.7 L448.5,911.3 L449.5,909.3 L450.5,908.1 L451.5,907.6 L452.5,908.1 L454.0,910.5 L457.5,919.4 L459.0,922.7 L460.5,924.8 L462.0,926.2 L463.5,926.9 L466.0,927.4 L471.0,927.5 L474.0,928.0 L477.0,927.6 L480.0,928.2 L483.0,927.5 L485.5,928.1 L489.0,927.9 L492.0,928.3 L495.5,928.1 L498.0,927.7 L501.0,927.7 L504.0,928.0 L510.0,927.5 L513.0,928.2 L516.0,927.4 L519.5,927.6 L522.0,928.0 L524.5,927.5 L528.0,927.5 L531.0,928.2 L533.5,927.9 L540.1,927.7 L543.1,928.3 L549.1,927.5 L555.1,927.9 L558.1,927.8 L561.1,927.5 L564.6,927.8 L567.1,928.3 L569.6,927.9 L572.6,927.8 L576.1,928.1 L579.1,927.5 L582.1,927.6 L585.1,927.5 L587.6,927.8 L591.1,927.7 L594.1,927.2 L597.1,928.0 L602.6,927.4 L606.1,927.4 L609.1,927.4 L612.1,928.0 L615.1,928.0 L617.6,927.3 L621.1,927.1 L623.6,927.5 L630.1,927.5 L633.1,927.0 L635.6,927.6 L639.1,927.8 L642.1,927.0 L647.6,927.2 L651.1,927.1 L654.1,927.6 L656.6,927.2 L660.1,926.9 L663.1,927.7 L665.6,927.2 L669.1,927.3 L672.1,926.9 L675.1,927.7 L681.1,927.5 L684.1,927.0 L686.6,927.5 L690.1,927.8 L693.6,927.6 L699.1,926.8 L702.6,927.2 L705.1,927.7 L708.1,926.9 L711.1,927.7 L714.1,927.5 L717.1,927.7 L720.1,926.8 L723.1,927.7 L726.1,927.0 L732.1,926.9 L735.1,927.4 L738.6,927.1 L741.1,926.6 L744.6,926.9 L747.1,927.4 L753.1,927.1 L756.1,927.3 L758.6,926.9 L765.6,927.0 L774.1,926.4 L777.6,926.7 L783.1,927.4 L785.6,926.8 L788.6,926.6 L792.1,926.9 L794.6,926.6 L801.1,926.4 L810.1,926.7 L813.1,927.2 L819.1,926.5 L824.6,927.0 L831.2,927.1 L834.2,926.2 L836.2,927.0 L837.2,927.2 L842.7,926.7 L846.2,927.1 L849.2,926.4 L855.2,926.8 L858.2,926.1 L861.2,926.8 L863.7,926.3 L867.2,926.6 L870.2,926.1 L872.7,926.6 L876.2,926.4 L879.2,926.7 L888.2,926.0 L891.2,926.7 L894.2,926.6 L897.2,926.1 L900.2,926.8 L903.2,926.6 L906.2,926.0 L914.7,926.6 L921.2,926.3 L924.2,926.7 L927.2,925.9 L932.7,926.4 L936.2,926.4 L939.2,926.2 L941.7,926.4 L945.2,926.4 L948.2,926.8 L951.7,926.5 L953.7,926.0 L957.2,926.4 L968.7,925.8 L969.7,925.9 L971.2,926.6 L972.2,926.7 L974.2,926.0 L975.2,925.9 L977.7,926.6 L980.7,926.8 L981.7,926.6 L983.2,926.0 L984.2,925.8 L989.7,926.2 L996.2,926.0 L999.2,926.4 L1005.2,925.7 L1007.2,926.5 L1008.2,926.7 L1011.2,926.0 L1017.2,926.6 L1019.2,925.9 L1020.2,925.7 L1023.2,925.8 L1025.7,926.3 L1029.2,925.9 L1032.2,926.6 L1035.2,926.4 L1037.7,925.9 L1041.2,926.1 L1044.2,925.8 L1047.2,926.2 L1049.7,925.7 L1053.2,925.9 L1056.2,925.4 L1058.2,926.2 L1059.2,926.3 L1061.7,925.7 L1065.2,926.0 L1067.7,925.1 L1068.7,925.1 L1070.7,925.6 L1074.2,925.4 L1077.2,925.0 L1080.2,925.2 L1082.7,924.4 L1086.2,924.9 L1088.7,924.1 L1089.7,924.3 L1091.7,925.2 L1092.7,925.1 L1093.7,924.8 L1094.7,924.1 L1095.7,922.9 L1097.7,919.7 L1098.7,919.0 L1099.7,919.2 L1101.2,920.0 L1102.2,921.3 L1104.2,924.8 L1104.7,925.4 L1105.2,925.7 L1105.7,925.7 L1106.2,925.4 L1107.2,922.8 L1110.7,904.5 L1111.7,901.8 L1112.7,901.5 L1113.7,901.8 L1115.7,903.5 L1116.2,905.3 L1117.7,915.1 L1118.2,915.7 L1118.7,914.1 L1120.2,905.5 L1120.7,903.7 L1121.2,904.9 L1121.7,907.8 L1122.9,919.1 L1127.3,685.6 L1130.3,541.8 L1132.8,441.9 L1133.8,409.8 L1134.9,384.5 L1135.8,401.8 L1136.8,432.0 L1139.8,551.0 L1142.8,696.3 L1146.9,921.1 L1147.8,913.5 L1148.3,911.1 L1148.8,910.9 L1149.3,911.2 L1150.3,909.7 L1152.3,905.1 L1154.8,897.5 L1155.3,896.6 L1155.8,896.2 L1156.3,896.2 L1156.8,896.5 L1157.3,897.1 L1158.3,900.5 L1161.8,919.5 L1162.8,922.8 L1163.3,923.1 L1163.8,923.0 L1164.3,922.6 L1165.3,921.2 L1168.8,914.6 L1169.8,913.5 L1170.3,913.4 L1170.8,913.9 L1171.3,914.7 L1175.3,923.5 L1176.3,925.1 L1176.8,925.4 L1177.3,925.3 L1179.3,923.5 L1181.3,922.2 L1182.8,920.6 L1183.8,919.8 L1187.3,919.2 L1190.8,920.3 L1193.3,922.0 L1194.8,922.5 L1196.8,922.6 L1200.3,922.5 L1202.8,923.1 L1206.3,923.2 L1209.3,923.7 L1212.3,923.8 L1215.3,923.6 L1217.8,924.4 L1224.3,924.3 L1229.8,923.6 L1230.8,923.8 L1232.3,924.4 L1233.3,924.6 L1236.3,924.6 L1238.8,924.0 L1242.3,923.9 L1248.3,924.3 L1250.8,923.9 L1251.8,924.1 L1253.8,924.9 L1254.8,924.8 L1256.8,924.1 L1257.8,924.3 L1259.8,925.1 L1262.8,924.5 L1265.8,925.2 L1269.3,925.2 L1271.8,925.5 L1272.8,925.3 L1274.8,924.7 L1277.8,925.3 L1281.3,925.3 L1283.8,925.5 L1286.8,924.8 L1287.8,924.8 L1290.3,925.0 L1292.8,925.7 L1293.8,925.6 L1295.3,924.9 L1296.3,924.8 L1302.3,924.8 L1305.3,925.0 L1307.8,925.6 L1310.8,925.7 L1314.3,925.5 L1320.3,925.7 L1322.3,925.2 L1323.3,925.1 L1326.3,925.2 L1328.8,925.8 L1340.8,924.8 L1341.8,925.0 L1343.8,925.8 L1347.3,925.2 L1350.3,925.4 L1352.8,925.8 L1358.8,925.2 L1362.3,925.5 L1364.8,924.9 L1370.8,925.4 L1374.3,925.1 L1376.8,925.7 L1379.8,925.2 L1382.8,925.3 L1388.8,925.1 L1391.8,925.9 L1394.8,925.6 L1397.8,925.9 L1400.8,925.2 L1403.8,925.0 L1406.8,925.6 L1409.8,925.0 L1412.8,925.4 L1419.4,925.3 L1421.9,925.9 L1422.9,925.7 L1424.9,925.0 L1428.4,925.6 L1431.4,925.5 L1433.9,925.0 L1437.4,925.1 L1442.9,924.9 L1443.9,925.1 L1445.9,925.9 L1446.9,925.7 L1448.9,924.9 L1451.9,925.8 L1455.4,925.4 L1469.9,925.9 L1472.9,925.0 L1475.9,925.8 L1479.4,925.7 L1481.4,925.1 L1482.4,925.1 L1484.9,925.8 L1490.9,925.0 L1493.9,925.6 L1497.4,925.4 L1502.9,925.9 L1505.9,925.2 L1508.9,925.6 L1512.4,925.5 L1515.4,925.2 L1518.4,925.4 L1520.9,926.0 L1523.9,925.2 L1526.9,925.4 L1530.4,925.2 L1532.4,925.8 L1535.9,926.0 L1538.9,925.4 L1541.9,925.9 L1544.9,925.4 L1550.9,925.1 L1553.9,926.0 L1556.9,925.3 L1559.9,925.6 L1563.9,925.2" fill="none" stroke="#f9aa50" stroke-width="9.0" stroke-linejoin="round" stroke-linecap="butt"/>
<path d="M312.4,846.1 L315.9,846.3 L319.4,846.1 L321.9,846.5 L324.4,846.0 L327.9,845.8 L330.9,845.9 L334.4,845.7 L340.4,846.1 L343.4,846.0 L345.9,845.6 L348.9,845.8 L351.9,845.5 L355.4,845.5 L357.9,845.8 L360.9,845.5 L364.4,845.8 L366.9,846.4 L370.4,846.3 L372.9,845.8 L378.4,846.3 L384.9,846.4 L387.9,845.7 L390.9,845.9 L393.9,845.7 L396.9,846.3 L400.4,846.3 L402.9,846.5 L405.9,845.7 L408.9,846.5 L412.4,846.4 L414.9,845.9 L418.4,846.4 L423.9,845.5 L426.9,846.1 L429.9,845.6 L432.9,845.9 L441.9,845.7 L444.9,846.4 L447.9,845.6 L453.9,846.5 L456.9,845.9 L459.9,846.5 L462.9,846.2 L465.9,846.5 L468.9,845.9 L471.9,846.2 L474.9,845.8 L477.9,846.5 L480.9,845.7 L483.4,845.8 L485.9,845.5 L487.4,844.7 L488.9,842.9 L489.9,840.8 L490.9,837.5 L491.9,833.0 L493.4,824.4 L497.4,797.2 L498.9,791.3 L499.4,790.2 L500.0,789.7 L500.4,789.8 L500.9,790.5 L501.9,793.8 L502.9,799.4 L506.9,827.0 L508.4,834.6 L509.9,840.2 L511.4,843.4 L512.9,844.9 L514.4,845.6 L516.9,845.5 L519.9,846.3 L523.4,846.1 L525.9,845.5 L528.9,846.2 L532.4,846.1 L534.9,845.7 L537.4,846.2 L540.4,846.4 L550.0,846.1 L553.0,846.5 L555.5,845.9 L559.0,845.7 L562.5,845.9 L565.0,846.4 L568.0,845.9 L574.0,846.4 L577.0,846.0 L580.0,846.2 L582.5,845.9 L589.0,845.7 L595.0,846.2 L598.0,845.5 L601.5,845.8 L604.0,846.5 L607.0,846.0 L619.0,846.5 L620.5,846.2 L625.0,844.6 L626.5,844.9 L627.5,844.6 L628.5,843.6 L630.5,840.7 L631.0,840.2 L632.0,839.8 L632.5,839.9 L633.5,840.7 L637.0,845.1 L637.5,845.3 L640.0,845.0 L643.0,846.2 L646.0,845.5 L649.0,846.1 L655.0,845.8 L660.5,846.3 L664.0,846.5 L666.5,845.8 L670.0,845.5 L672.5,846.0 L679.0,846.5 L682.0,845.5 L685.0,846.5 L687.5,845.6 L691.0,845.5 L694.5,845.8 L697.0,846.5 L700.0,846.0 L703.0,846.5 L706.0,846.1 L715.0,846.1 L721.0,846.5 L727.0,845.5 L730.0,846.4 L733.0,845.7 L736.0,846.2 L739.0,845.6 L742.0,845.9 L745.5,845.7 L751.5,845.9 L754.0,846.1 L757.0,845.7 L760.0,846.4 L763.0,845.7 L766.0,846.2 L769.5,846.1 L772.0,845.6 L775.0,846.1 L778.0,845.5 L781.5,845.6 L784.0,846.4 L787.0,845.7 L790.0,846.5 L796.0,845.7 L799.0,846.2 L802.0,845.9 L808.0,846.0 L811.0,845.6 L817.0,846.5 L820.5,846.4 L823.0,846.0 L826.5,846.2 L832.0,845.6 L835.0,846.5 L838.0,846.3 L841.0,846.4 L844.1,845.5 L846.6,846.0 L850.1,846.3 L855.6,846.0 L862.1,846.0 L868.1,845.6 L870.6,845.9 L874.1,845.8 L880.1,846.2 L883.1,845.5 L886.1,845.9 L888.6,845.7 L892.6,845.7 L901.1,846.5 L904.1,846.0 L910.1,845.9 L913.1,846.2 L915.6,845.7 L922.1,845.5 L928.1,845.6 L934.1,846.4 L936.6,845.9 L940.1,845.5 L943.1,845.6 L946.1,846.4 L949.1,846.2 L952.1,846.4 L955.1,845.5 L957.6,846.0 L961.1,846.4 L964.1,845.7 L966.6,846.3 L970.1,846.3 L973.1,845.6 L982.1,846.3 L984.6,846.1 L997.1,845.9 L1003.1,846.3 L1006.1,846.1 L1012.1,846.5 L1015.1,845.5 L1018.6,845.8 L1021.1,846.4 L1024.1,846.1 L1027.1,846.4 L1029.6,845.9 L1036.1,845.6 L1039.1,846.4 L1042.1,846.1 L1045.1,846.3 L1048.1,846.1 L1051.1,845.7 L1053.6,846.3 L1057.1,846.1 L1060.1,846.3 L1066.1,845.6 L1072.1,845.6 L1075.1,846.2 L1081.1,846.1 L1087.1,845.6 L1090.1,846.2 L1093.1,845.5 L1095.6,845.8 L1102.1,846.0 L1105.1,846.7 L1107.6,847.9 L1109.1,848.1 L1111.6,847.8 L1112.6,847.4 L1113.6,846.7 L1116.6,844.0 L1118.6,843.1 L1119.6,843.1 L1120.1,843.3 L1125.1,846.3 L1126.1,846.3 L1126.6,846.0 L1129.6,843.1 L1132.1,841.9 L1133.7,841.6 L1134.7,840.9 L1136.2,839.1 L1138.7,835.3 L1140.2,833.5 L1142.2,831.8 L1146.2,829.5 L1147.2,828.2 L1148.7,825.5 L1149.2,824.9 L1149.7,824.7 L1150.2,825.6 L1150.7,827.8 L1152.7,840.3 L1153.2,841.5 L1155.7,843.0 L1156.2,842.6 L1157.2,844.9 L1157.8,846.0 L1161.2,656.5 L1164.7,482.5 L1167.7,360.1 L1168.7,328.0 L1169.8,302.8 L1170.7,320.3 L1171.7,350.6 L1174.7,470.0 L1177.7,615.7 L1181.8,841.3 L1183.2,827.0 L1184.7,824.1 L1187.2,815.0 L1188.2,812.2 L1189.2,810.3 L1189.7,810.1 L1190.2,810.6 L1190.7,811.8 L1193.7,823.8 L1194.7,825.2 L1196.2,834.9 L1196.7,836.9 L1197.2,836.9 L1199.7,835.1 L1203.2,831.0 L1204.2,830.6 L1204.7,830.9 L1205.7,832.3 L1207.7,836.7 L1208.7,838.4 L1209.7,839.4 L1210.2,839.6 L1211.7,839.8 L1212.7,839.6 L1216.2,837.1 L1218.2,835.3 L1219.2,835.2 L1220.2,835.7 L1221.2,836.4 L1222.2,837.4 L1224.7,840.6 L1226.2,841.5 L1227.2,841.5 L1228.2,841.2 L1231.7,839.6 L1233.2,839.4 L1234.7,839.7 L1237.2,840.7 L1239.7,841.2 L1243.2,842.7 L1246.2,842.6 L1255.2,843.9 L1257.7,843.8 L1263.2,845.2 L1266.7,845.7 L1267.7,845.7 L1269.7,845.1 L1275.7,844.9 L1279.2,845.3 L1281.7,845.1 L1291.2,845.1 L1294.2,845.6 L1303.2,845.3 L1305.7,845.0 L1309.2,845.0 L1312.2,845.4 L1315.2,845.1 L1317.2,845.8 L1318.2,845.9 L1320.2,845.1 L1321.2,844.9 L1324.2,845.1 L1326.7,845.7 L1327.7,845.6 L1329.2,845.1 L1330.2,844.9 L1332.7,845.7 L1338.7,845.9 L1341.7,845.5 L1344.7,845.3 L1351.2,845.6 L1354.2,845.0 L1359.7,845.5 L1368.7,845.9 L1372.2,845.4 L1378.2,845.8 L1380.7,845.2 L1383.7,845.7 L1386.7,845.5 L1390.2,845.7 L1396.2,844.9 L1398.7,845.4 L1401.7,845.0 L1404.7,845.2 L1408.2,845.1 L1411.2,845.8 L1414.2,845.8 L1416.7,845.1 L1419.7,845.0 L1422.7,845.3 L1426.2,845.1 L1429.2,845.7 L1434.8,845.2 L1437.8,845.1 L1443.8,845.8 L1447.3,845.3 L1449.8,845.9 L1450.8,845.8 L1452.8,845.0 L1456.3,845.5 L1462.3,845.1 L1467.8,845.8 L1471.3,845.9 L1474.3,845.9 L1476.8,845.2 L1479.3,845.0 L1483.3,845.2 L1486.3,844.9 L1489.3,845.0 L1491.8,845.8 L1492.8,845.7 L1494.8,845.1 L1501.3,845.2 L1503.8,845.0 L1506.8,845.5 L1509.8,845.1 L1513.3,845.5 L1519.3,845.0 L1522.3,845.3 L1524.8,845.7 L1525.8,845.6 L1527.8,844.9 L1531.3,845.6 L1534.3,845.5 L1536.8,845.1 L1540.3,845.1 L1542.8,845.9 L1546.3,845.1 L1548.8,845.5 L1555.3,845.8 L1557.8,845.2 L1560.8,845.0 L1563.8,845.6 L1566.8,845.2 L1570.3,845.6 L1573.3,845.6 L1575.8,845.0 L1579.3,845.5 L1587.8,844.9 L1590.8,845.4 L1594.3,845.0 L1596.8,845.6 L1599.8,845.7 L1602.8,845.0 L1605.8,845.7 L1608.8,845.1 L1614.8,845.4 L1617.8,844.9 L1621.3,845.2 L1623.8,845.7 L1627.3,845.4 L1629.8,845.9 L1632.8,845.3 L1634.3,845.5" fill="none" stroke="#fff" stroke-opacity="0.6" stroke-width="11.4" stroke-linejoin="round"/>
<path d="M312.4,846.1 L315.9,846.3 L319.4,846.1 L321.9,846.5 L324.4,846.0 L327.9,845.8 L330.9,845.9 L334.4,845.7 L340.4,846.1 L343.4,846.0 L345.9,845.6 L348.9,845.8 L351.9,845.5 L355.4,845.5 L357.9,845.8 L360.9,845.5 L364.4,845.8 L366.9,846.4 L370.4,846.3 L372.9,845.8 L378.4,846.3 L384.9,846.4 L387.9,845.7 L390.9,845.9 L393.9,845.7 L396.9,846.3 L400.4,846.3 L402.9,846.5 L405.9,845.7 L408.9,846.5 L412.4,846.4 L414.9,845.9 L418.4,846.4 L423.9,845.5 L426.9,846.1 L429.9,845.6 L432.9,845.9 L441.9,845.7 L444.9,846.4 L447.9,845.6 L453.9,846.5 L456.9,845.9 L459.9,846.5 L462.9,846.2 L465.9,846.5 L468.9,845.9 L471.9,846.2 L474.9,845.8 L477.9,846.5 L480.9,845.7 L483.4,845.8 L485.9,845.5 L487.4,844.7 L488.9,842.9 L489.9,840.8 L490.9,837.5 L491.9,833.0 L493.4,824.4 L497.4,797.2 L498.9,791.3 L499.4,790.2 L500.0,789.7 L500.4,789.8 L500.9,790.5 L501.9,793.8 L502.9,799.4 L506.9,827.0 L508.4,834.6 L509.9,840.2 L511.4,843.4 L512.9,844.9 L514.4,845.6 L516.9,845.5 L519.9,846.3 L523.4,846.1 L525.9,845.5 L528.9,846.2 L532.4,846.1 L534.9,845.7 L537.4,846.2 L540.4,846.4 L550.0,846.1 L553.0,846.5 L555.5,845.9 L559.0,845.7 L562.5,845.9 L565.0,846.4 L568.0,845.9 L574.0,846.4 L577.0,846.0 L580.0,846.2 L582.5,845.9 L589.0,845.7 L595.0,846.2 L598.0,845.5 L601.5,845.8 L604.0,846.5 L607.0,846.0 L619.0,846.5 L620.5,846.2 L625.0,844.6 L626.5,844.9 L627.5,844.6 L628.5,843.6 L630.5,840.7 L631.0,840.2 L632.0,839.8 L632.5,839.9 L633.5,840.7 L637.0,845.1 L637.5,845.3 L640.0,845.0 L643.0,846.2 L646.0,845.5 L649.0,846.1 L655.0,845.8 L660.5,846.3 L664.0,846.5 L666.5,845.8 L670.0,845.5 L672.5,846.0 L679.0,846.5 L682.0,845.5 L685.0,846.5 L687.5,845.6 L691.0,845.5 L694.5,845.8 L697.0,846.5 L700.0,846.0 L703.0,846.5 L706.0,846.1 L715.0,846.1 L721.0,846.5 L727.0,845.5 L730.0,846.4 L733.0,845.7 L736.0,846.2 L739.0,845.6 L742.0,845.9 L745.5,845.7 L751.5,845.9 L754.0,846.1 L757.0,845.7 L760.0,846.4 L763.0,845.7 L766.0,846.2 L769.5,846.1 L772.0,845.6 L775.0,846.1 L778.0,845.5 L781.5,845.6 L784.0,846.4 L787.0,845.7 L790.0,846.5 L796.0,845.7 L799.0,846.2 L802.0,845.9 L808.0,846.0 L811.0,845.6 L817.0,846.5 L820.5,846.4 L823.0,846.0 L826.5,846.2 L832.0,845.6 L835.0,846.5 L838.0,846.3 L841.0,846.4 L844.1,845.5 L846.6,846.0 L850.1,846.3 L855.6,846.0 L862.1,846.0 L868.1,845.6 L870.6,845.9 L874.1,845.8 L880.1,846.2 L883.1,845.5 L886.1,845.9 L888.6,845.7 L892.6,845.7 L901.1,846.5 L904.1,846.0 L910.1,845.9 L913.1,846.2 L915.6,845.7 L922.1,845.5 L928.1,845.6 L934.1,846.4 L936.6,845.9 L940.1,845.5 L943.1,845.6 L946.1,846.4 L949.1,846.2 L952.1,846.4 L955.1,845.5 L957.6,846.0 L961.1,846.4 L964.1,845.7 L966.6,846.3 L970.1,846.3 L973.1,845.6 L982.1,846.3 L984.6,846.1 L997.1,845.9 L1003.1,846.3 L1006.1,846.1 L1012.1,846.5 L1015.1,845.5 L1018.6,845.8 L1021.1,846.4 L1024.1,846.1 L1027.1,846.4 L1029.6,845.9 L1036.1,845.6 L1039.1,846.4 L1042.1,846.1 L1045.1,846.3 L1048.1,846.1 L1051.1,845.7 L1053.6,846.3 L1057.1,846.1 L1060.1,846.3 L1066.1,845.6 L1072.1,845.6 L1075.1,846.2 L1081.1,846.1 L1087.1,845.6 L1090.1,846.2 L1093.1,845.5 L1095.6,845.8 L1102.1,846.0 L1105.1,846.7 L1107.6,847.9 L1109.1,848.1 L1111.6,847.8 L1112.6,847.4 L1113.6,846.7 L1116.6,844.0 L1118.6,843.1 L1119.6,843.1 L1120.1,843.3 L1125.1,846.3 L1126.1,846.3 L1126.6,846.0 L1129.6,843.1 L1132.1,841.9 L1133.7,841.6 L1134.7,840.9 L1136.2,839.1 L1138.7,835.3 L1140.2,833.5 L1142.2,831.8 L1146.2,829.5 L1147.2,828.2 L1148.7,825.5 L1149.2,824.9 L1149.7,824.7 L1150.2,825.6 L1150.7,827.8 L1152.7,840.3 L1153.2,841.5 L1155.7,843.0 L1156.2,842.6 L1157.2,844.9 L1157.8,846.0 L1161.2,656.5 L1164.7,482.5 L1167.7,360.1 L1168.7,328.0 L1169.8,302.8 L1170.7,320.3 L1171.7,350.6 L1174.7,470.0 L1177.7,615.7 L1181.8,841.3 L1183.2,827.0 L1184.7,824.1 L1187.2,815.0 L1188.2,812.2 L1189.2,810.3 L1189.7,810.1 L1190.2,810.6 L1190.7,811.8 L1193.7,823.8 L1194.7,825.2 L1196.2,834.9 L1196.7,836.9 L1197.2,836.9 L1199.7,835.1 L1203.2,831.0 L1204.2,830.6 L1204.7,830.9 L1205.7,832.3 L1207.7,836.7 L1208.7,838.4 L1209.7,839.4 L1210.2,839.6 L1211.7,839.8 L1212.7,839.6 L1216.2,837.1 L1218.2,835.3 L1219.2,835.2 L1220.2,835.7 L1221.2,836.4 L1222.2,837.4 L1224.7,840.6 L1226.2,841.5 L1227.2,841.5 L1228.2,841.2 L1231.7,839.6 L1233.2,839.4 L1234.7,839.7 L1237.2,840.7 L1239.7,841.2 L1243.2,842.7 L1246.2,842.6 L1255.2,843.9 L1257.7,843.8 L1263.2,845.2 L1266.7,845.7 L1267.7,845.7 L1269.7,845.1 L1275.7,844.9 L1279.2,845.3 L1281.7,845.1 L1291.2,845.1 L1294.2,845.6 L1303.2,845.3 L1305.7,845.0 L1309.2,845.0 L1312.2,845.4 L1315.2,845.1 L1317.2,845.8 L1318.2,845.9 L1320.2,845.1 L1321.2,844.9 L1324.2,845.1 L1326.7,845.7 L1327.7,845.6 L1329.2,845.1 L1330.2,844.9 L1332.7,845.7 L1338.7,845.9 L1341.7,845.5 L1344.7,845.3 L1351.2,845.6 L1354.2,845.0 L1359.7,845.5 L1368.7,845.9 L1372.2,845.4 L1378.2,845.8 L1380.7,845.2 L1383.7,845.7 L1386.7,845.5 L1390.2,845.7 L1396.2,844.9 L1398.7,845.4 L1401.7,845.0 L1404.7,845.2 L1408.2,845.1 L1411.2,845.8 L1414.2,845.8 L1416.7,845.1 L1419.7,845.0 L1422.7,845.3 L1426.2,845.1 L1429.2,845.7 L1434.8,845.2 L1437.8,845.1 L1443.8,845.8 L1447.3,845.3 L1449.8,845.9 L1450.8,845.8 L1452.8,845.0 L1456.3,845.5 L1462.3,845.1 L1467.8,845.8 L1471.3,845.9 L1474.3,845.9 L1476.8,845.2 L1479.3,845.0 L1483.3,845.2 L1486.3,844.9 L1489.3,845.0 L1491.8,845.8 L1492.8,845.7 L1494.8,845.1 L1501.3,845.2 L1503.8,845.0 L1506.8,845.5 L1509.8,845.1 L1513.3,845.5 L1519.3,845.0 L1522.3,845.3 L1524.8,845.7 L1525.8,845.6 L1527.8,844.9 L1531.3,845.6 L1534.3,845.5 L1536.8,845.1 L1540.3,845.1 L1542.8,845.9 L1546.3,845.1 L1548.8,845.5 L1555.3,845.8 L1557.8,845.2 L1560.8,845.0 L1563.8,845.6 L1566.8,845.2 L1570.3,845.6 L1573.3,845.6 L1575.8,845.0 L1579.3,845.5 L1587.8,844.9 L1590.8,845.4 L1594.3,845.0 L1596.8,845.6 L1599.8,845.7 L1602.8,845.0 L1605.8,845.7 L1608.8,845.1 L1614.8,845.4 L1617.8,844.9 L1621.3,845.2 L1623.8,845.7 L1627.3,845.4 L1629.8,845.9 L1632.8,845.3 L1634.3,845.5" fill="none" stroke="#7eaad8" stroke-width="9.0" stroke-linejoin="round" stroke-linecap="butt"/>
<path d="M382.8,764.3 L385.8,764.9 L388.8,765.0 L391.8,764.2 L394.8,764.9 L398.3,764.3 L400.3,764.7 L403.8,765.1 L404.8,764.9 L406.3,764.3 L407.3,764.2 L410.3,764.4 L412.8,765.0 L419.3,764.1 L422.8,764.3 L427.8,765.0 L430.3,764.5 L433.8,764.1 L439.8,765.2 L440.8,765.0 L442.8,764.2 L445.8,764.9 L448.8,765.2 L451.8,764.8 L455.3,765.0 L460.8,764.1 L463.8,764.7 L466.8,764.7 L469.8,764.2 L472.8,764.3 L479.3,764.7 L481.8,765.2 L485.3,764.6 L488.3,764.7 L490.8,765.2 L496.8,764.4 L499.8,764.9 L505.8,764.4 L509.3,764.5 L511.8,764.8 L514.8,764.4 L520.8,764.4 L523.8,764.9 L526.8,764.4 L529.8,765.0 L539.3,765.0 L544.8,765.3 L547.8,764.5 L550.8,765.0 L554.3,765.0 L556.8,764.6 L565.9,764.6 L568.9,765.0 L571.9,765.0 L574.9,764.6 L578.4,764.6 L581.4,764.9 L584.4,764.8 L586.9,764.4 L589.9,764.9 L592.9,764.3 L595.9,764.7 L599.4,764.6 L601.9,765.2 L607.9,764.1 L611.4,764.4 L614.4,764.2 L616.9,763.6 L619.9,763.7 L626.9,763.1 L629.4,763.2 L631.4,763.6 L632.4,763.6 L634.9,762.8 L637.9,762.6 L638.9,762.1 L640.4,760.8 L641.4,760.3 L646.4,760.2 L647.4,759.6 L649.9,756.9 L650.9,756.1 L651.9,755.6 L653.4,755.4 L653.9,755.1 L659.9,748.4 L660.9,747.7 L661.9,747.5 L662.4,747.0 L664.4,741.2 L664.9,739.9 L665.4,739.3 L665.9,739.4 L666.4,740.5 L668.9,750.5 L669.9,753.0 L670.4,753.4 L670.9,751.8 L671.9,742.3 L672.4,740.2 L672.9,742.9 L674.4,761.8 L675.0,765.2 L678.4,574.0 L681.9,400.2 L684.9,278.1 L685.9,246.2 L687.0,221.9 L687.9,240.3 L688.9,270.8 L691.9,390.5 L695.4,562.7 L699.0,765.3 L699.4,763.2 L700.4,753.6 L700.9,753.2 L702.4,749.2 L705.9,735.3 L706.9,733.2 L707.4,733.1 L707.9,733.8 L708.9,737.5 L711.9,752.0 L712.4,753.5 L712.9,754.3 L715.9,753.9 L719.4,754.0 L720.9,755.0 L723.4,758.3 L724.4,759.0 L730.9,759.4 L733.4,758.9 L734.4,759.0 L736.9,760.8 L739.9,761.2 L741.9,763.1 L742.9,763.8 L748.9,763.5 L752.4,764.3 L761.4,765.0 L763.9,765.6 L766.9,764.9 L769.9,764.8 L773.4,765.1 L775.9,765.7 L778.9,765.4 L784.9,765.5 L790.9,764.7 L793.9,765.4 L806.4,765.1 L808.9,764.8 L811.9,765.6 L814.9,765.3 L823.9,765.4 L826.9,764.8 L829.9,765.6 L832.9,764.8 L835.9,764.7 L838.9,765.6 L844.9,764.9 L847.9,765.6 L850.9,765.0 L854.5,765.0 L857.0,765.5 L860.0,764.7 L862.5,765.1 L865.5,765.3 L872.0,765.2 L878.0,765.7 L881.0,765.1 L884.0,765.7 L887.0,765.4 L893.0,765.5 L896.0,765.0 L899.5,765.2 L902.0,765.7 L904.5,765.0 L908.0,764.7 L911.5,764.9 L914.0,765.7 L917.0,765.3 L920.0,765.6 L923.0,765.0 L926.0,765.7 L929.5,765.4 L932.0,765.0 L935.0,765.5 L938.0,764.8 L941.0,765.4 L944.0,764.8 L947.0,765.0 L950.0,764.8 L955.5,765.2 L962.0,765.5 L965.0,764.7 L968.0,765.7 L971.0,765.0 L977.0,765.2 L980.5,764.8 L983.5,764.8 L985.5,765.3 L989.0,765.7 L992.0,764.8 L998.0,765.3 L1001.0,764.9 L1003.5,765.2 L1007.0,765.0 L1016.0,765.6 L1019.5,765.6 L1022.0,765.2 L1025.0,765.7 L1028.0,764.9 L1034.5,765.0 L1040.0,765.6 L1042.5,765.1 L1046.0,764.9 L1048.5,765.4 L1052.0,765.6 L1054.5,764.9 L1058.0,764.8 L1061.0,765.8 L1063.5,765.2 L1067.0,765.0 L1072.5,765.2 L1076.0,765.1 L1079.0,765.6 L1082.0,765.3 L1085.0,765.6 L1088.0,764.7 L1094.5,765.0 L1097.0,765.4 L1106.0,764.9 L1108.5,765.2 L1111.5,765.3 L1118.0,765.1 L1121.0,765.4 L1124.0,764.9 L1127.0,765.6 L1133.0,764.8 L1135.5,765.6 L1139.0,765.8 L1142.0,765.3 L1145.0,765.6 L1148.0,764.7 L1151.1,765.6 L1154.1,765.0 L1157.1,765.5 L1160.1,765.0 L1166.1,765.4 L1169.1,764.7 L1171.6,765.7 L1175.1,765.4 L1178.1,765.8 L1180.6,765.2 L1183.6,765.0 L1187.6,765.0 L1193.1,765.6 L1195.6,765.1 L1198.6,765.0 L1202.1,765.5 L1205.1,764.7 L1208.1,765.4 L1213.6,764.9 L1220.1,764.7 L1222.6,765.4 L1229.1,765.5 L1232.1,764.8 L1234.6,765.5 L1238.1,765.2 L1241.1,765.7 L1244.1,764.7 L1247.1,765.6 L1250.1,765.5 L1253.1,765.0 L1256.1,765.8 L1259.1,764.9 L1262.1,765.5 L1264.6,765.2 L1268.1,765.2 L1274.1,765.5 L1280.1,765.0 L1286.1,765.0 L1289.1,765.2 L1292.1,764.8 L1295.6,765.1 L1298.1,765.6 L1301.1,765.0 L1304.1,765.6 L1307.1,765.1 L1310.1,765.8 L1313.1,765.1 L1316.1,765.8 L1318.6,765.2 L1322.1,765.3 L1325.1,764.8 L1328.6,765.2 L1331.1,765.7 L1334.6,765.4 L1336.6,765.0 L1342.6,764.7 L1346.1,765.0 L1352.1,764.7 L1358.6,765.0 L1364.1,765.6 L1367.1,765.6 L1370.1,764.9 L1376.1,765.4 L1382.1,765.4 L1385.1,764.9 L1387.6,765.1 L1391.1,765.0 L1394.1,765.2 L1397.1,765.8 L1399.6,764.9 L1405.6,764.7 L1409.1,765.1 L1412.1,764.8 L1414.1,765.6 L1415.1,765.8 L1418.1,764.9 L1421.1,765.3 L1424.1,764.8 L1426.1,765.6 L1427.1,765.8 L1429.6,764.8 L1432.6,764.8 L1436.1,764.9 L1439.2,765.6 L1441.7,764.9 L1442.7,765.0 L1445.2,765.5 L1448.2,764.9 L1451.7,765.3 L1454.2,765.8 L1457.7,765.5 L1460.2,765.1 L1469.2,765.7 L1471.7,765.0 L1475.2,764.7 L1477.7,765.3 L1480.7,765.6 L1490.2,764.9 L1492.7,765.6 L1496.2,765.3 L1502.2,765.7 L1508.2,764.9 L1510.7,765.4 L1513.2,765.5 L1517.2,765.3 L1523.2,765.6 L1526.2,765.2 L1529.2,765.8 L1531.7,765.3 L1541.2,765.1 L1544.2,764.8 L1547.2,765.1 L1550.2,765.8 L1553.2,765.7 L1556.2,765.1 L1559.2,765.2 L1562.2,765.7 L1564.7,764.9 L1570.7,764.8 L1571.7,764.9 L1573.2,765.6 L1574.2,765.8 L1576.2,765.1 L1577.2,764.9 L1579.7,765.5 L1586.2,765.3 L1589.2,765.8 L1592.2,765.1 L1595.2,765.2 L1598.2,765.7 L1601.2,765.5 L1603.7,764.9 L1607.2,764.9 L1609.7,765.4 L1612.7,765.4 L1616.2,764.8 L1618.7,765.5 L1621.7,765.7 L1627.7,764.8 L1630.7,765.3 L1637.2,765.4 L1640.2,765.1 L1646.2,765.2 L1649.2,764.9 L1652.2,765.5 L1654.7,765.2 L1658.2,765.3 L1660.7,765.0 L1663.7,765.4 L1669.7,765.3 L1673.2,765.4 L1676.2,764.8 L1678.7,765.5 L1681.7,765.6 L1685.2,765.4 L1688.2,764.9 L1690.2,765.7 L1691.2,765.8 L1693.7,765.1 L1699.7,764.8 L1700.7,765.0 L1702.7,765.8 L1703.7,765.7 L1704.7,765.3" fill="none" stroke="#fff" stroke-opacity="0.6" stroke-width="11.4" stroke-linejoin="round"/>
<path d="M382.8,764.3 L385.8,764.9 L388.8,765.0 L391.8,764.2 L394.8,764.9 L398.3,764.3 L400.3,764.7 L403.8,765.1 L404.8,764.9 L406.3,764.3 L407.3,764.2 L410.3,764.4 L412.8,765.0 L419.3,764.1 L422.8,764.3 L427.8,765.0 L430.3,764.5 L433.8,764.1 L439.8,765.2 L440.8,765.0 L442.8,764.2 L445.8,764.9 L448.8,765.2 L451.8,764.8 L455.3,765.0 L460.8,764.1 L463.8,764.7 L466.8,764.7 L469.8,764.2 L472.8,764.3 L479.3,764.7 L481.8,765.2 L485.3,764.6 L488.3,764.7 L490.8,765.2 L496.8,764.4 L499.8,764.9 L505.8,764.4 L509.3,764.5 L511.8,764.8 L514.8,764.4 L520.8,764.4 L523.8,764.9 L526.8,764.4 L529.8,765.0 L539.3,765.0 L544.8,765.3 L547.8,764.5 L550.8,765.0 L554.3,765.0 L556.8,764.6 L565.9,764.6 L568.9,765.0 L571.9,765.0 L574.9,764.6 L578.4,764.6 L581.4,764.9 L584.4,764.8 L586.9,764.4 L589.9,764.9 L592.9,764.3 L595.9,764.7 L599.4,764.6 L601.9,765.2 L607.9,764.1 L611.4,764.4 L614.4,764.2 L616.9,763.6 L619.9,763.7 L626.9,763.1 L629.4,763.2 L631.4,763.6 L632.4,763.6 L634.9,762.8 L637.9,762.6 L638.9,762.1 L640.4,760.8 L641.4,760.3 L646.4,760.2 L647.4,759.6 L649.9,756.9 L650.9,756.1 L651.9,755.6 L653.4,755.4 L653.9,755.1 L659.9,748.4 L660.9,747.7 L661.9,747.5 L662.4,747.0 L664.4,741.2 L664.9,739.9 L665.4,739.3 L665.9,739.4 L666.4,740.5 L668.9,750.5 L669.9,753.0 L670.4,753.4 L670.9,751.8 L671.9,742.3 L672.4,740.2 L672.9,742.9 L674.4,761.8 L675.0,765.2 L678.4,574.0 L681.9,400.2 L684.9,278.1 L685.9,246.2 L687.0,221.9 L687.9,240.3 L688.9,270.8 L691.9,390.5 L695.4,562.7 L699.0,765.3 L699.4,763.2 L700.4,753.6 L700.9,753.2 L702.4,749.2 L705.9,735.3 L706.9,733.2 L707.4,733.1 L707.9,733.8 L708.9,737.5 L711.9,752.0 L712.4,753.5 L712.9,754.3 L715.9,753.9 L719.4,754.0 L720.9,755.0 L723.4,758.3 L724.4,759.0 L730.9,759.4 L733.4,758.9 L734.4,759.0 L736.9,760.8 L739.9,761.2 L741.9,763.1 L742.9,763.8 L748.9,763.5 L752.4,764.3 L761.4,765.0 L763.9,765.6 L766.9,764.9 L769.9,764.8 L773.4,765.1 L775.9,765.7 L778.9,765.4 L784.9,765.5 L790.9,764.7 L793.9,765.4 L806.4,765.1 L808.9,764.8 L811.9,765.6 L814.9,765.3 L823.9,765.4 L826.9,764.8 L829.9,765.6 L832.9,764.8 L835.9,764.7 L838.9,765.6 L844.9,764.9 L847.9,765.6 L850.9,765.0 L854.5,765.0 L857.0,765.5 L860.0,764.7 L862.5,765.1 L865.5,765.3 L872.0,765.2 L878.0,765.7 L881.0,765.1 L884.0,765.7 L887.0,765.4 L893.0,765.5 L896.0,765.0 L899.5,765.2 L902.0,765.7 L904.5,765.0 L908.0,764.7 L911.5,764.9 L914.0,765.7 L917.0,765.3 L920.0,765.6 L923.0,765.0 L926.0,765.7 L929.5,765.4 L932.0,765.0 L935.0,765.5 L938.0,764.8 L941.0,765.4 L944.0,764.8 L947.0,765.0 L950.0,764.8 L955.5,765.2 L962.0,765.5 L965.0,764.7 L968.0,765.7 L971.0,765.0 L977.0,765.2 L980.5,764.8 L983.5,764.8 L985.5,765.3 L989.0,765.7 L992.0,764.8 L998.0,765.3 L1001.0,764.9 L1003.5,765.2 L1007.0,765.0 L1016.0,765.6 L1019.5,765.6 L1022.0,765.2 L1025.0,765.7 L1028.0,764.9 L1034.5,765.0 L1040.0,765.6 L1042.5,765.1 L1046.0,764.9 L1048.5,765.4 L1052.0,765.6 L1054.5,764.9 L1058.0,764.8 L1061.0,765.8 L1063.5,765.2 L1067.0,765.0 L1072.5,765.2 L1076.0,765.1 L1079.0,765.6 L1082.0,765.3 L1085.0,765.6 L1088.0,764.7 L1094.5,765.0 L1097.0,765.4 L1106.0,764.9 L1108.5,765.2 L1111.5,765.3 L1118.0,765.1 L1121.0,765.4 L1124.0,764.9 L1127.0,765.6 L1133.0,764.8 L1135.5,765.6 L1139.0,765.8 L1142.0,765.3 L1145.0,765.6 L1148.0,764.7 L1151.1,765.6 L1154.1,765.0 L1157.1,765.5 L1160.1,765.0 L1166.1,765.4 L1169.1,764.7 L1171.6,765.7 L1175.1,765.4 L1178.1,765.8 L1180.6,765.2 L1183.6,765.0 L1187.6,765.0 L1193.1,765.6 L1195.6,765.1 L1198.6,765.0 L1202.1,765.5 L1205.1,764.7 L1208.1,765.4 L1213.6,764.9 L1220.1,764.7 L1222.6,765.4 L1229.1,765.5 L1232.1,764.8 L1234.6,765.5 L1238.1,765.2 L1241.1,765.7 L1244.1,764.7 L1247.1,765.6 L1250.1,765.5 L1253.1,765.0 L1256.1,765.8 L1259.1,764.9 L1262.1,765.5 L1264.6,765.2 L1268.1,765.2 L1274.1,765.5 L1280.1,765.0 L1286.1,765.0 L1289.1,765.2 L1292.1,764.8 L1295.6,765.1 L1298.1,765.6 L1301.1,765.0 L1304.1,765.6 L1307.1,765.1 L1310.1,765.8 L1313.1,765.1 L1316.1,765.8 L1318.6,765.2 L1322.1,765.3 L1325.1,764.8 L1328.6,765.2 L1331.1,765.7 L1334.6,765.4 L1336.6,765.0 L1342.6,764.7 L1346.1,765.0 L1352.1,764.7 L1358.6,765.0 L1364.1,765.6 L1367.1,765.6 L1370.1,764.9 L1376.1,765.4 L1382.1,765.4 L1385.1,764.9 L1387.6,765.1 L1391.1,765.0 L1394.1,765.2 L1397.1,765.8 L1399.6,764.9 L1405.6,764.7 L1409.1,765.1 L1412.1,764.8 L1414.1,765.6 L1415.1,765.8 L1418.1,764.9 L1421.1,765.3 L1424.1,764.8 L1426.1,765.6 L1427.1,765.8 L1429.6,764.8 L1432.6,764.8 L1436.1,764.9 L1439.2,765.6 L1441.7,764.9 L1442.7,765.0 L1445.2,765.5 L1448.2,764.9 L1451.7,765.3 L1454.2,765.8 L1457.7,765.5 L1460.2,765.1 L1469.2,765.7 L1471.7,765.0 L1475.2,764.7 L1477.7,765.3 L1480.7,765.6 L1490.2,764.9 L1492.7,765.6 L1496.2,765.3 L1502.2,765.7 L1508.2,764.9 L1510.7,765.4 L1513.2,765.5 L1517.2,765.3 L1523.2,765.6 L1526.2,765.2 L1529.2,765.8 L1531.7,765.3 L1541.2,765.1 L1544.2,764.8 L1547.2,765.1 L1550.2,765.8 L1553.2,765.7 L1556.2,765.1 L1559.2,765.2 L1562.2,765.7 L1564.7,764.9 L1570.7,764.8 L1571.7,764.9 L1573.2,765.6 L1574.2,765.8 L1576.2,765.1 L1577.2,764.9 L1579.7,765.5 L1586.2,765.3 L1589.2,765.8 L1592.2,765.1 L1595.2,765.2 L1598.2,765.7 L1601.2,765.5 L1603.7,764.9 L1607.2,764.9 L1609.7,765.4 L1612.7,765.4 L1616.2,764.8 L1618.7,765.5 L1621.7,765.7 L1627.7,764.8 L1630.7,765.3 L1637.2,765.4 L1640.2,765.1 L1646.2,765.2 L1649.2,764.9 L1652.2,765.5 L1654.7,765.2 L1658.2,765.3 L1660.7,765.0 L1663.7,765.4 L1669.7,765.3 L1673.2,765.4 L1676.2,764.8 L1678.7,765.5 L1681.7,765.6 L1685.2,765.4 L1688.2,764.9 L1690.2,765.7 L1691.2,765.8 L1693.7,765.1 L1699.7,764.8 L1700.7,765.0 L1702.7,765.8 L1703.7,765.7 L1704.7,765.3" fill="none" stroke="#90d0c4" stroke-width="9.0" stroke-linejoin="round" stroke-linecap="butt"/>
<path d="M453.2,682.9 L455.7,682.5 L459.2,682.5 L461.7,681.9 L465.2,682.6 L467.7,682.0 L471.2,681.7 L473.2,682.4 L474.2,682.5 L476.7,682.0 L479.7,682.3 L483.2,682.2 L485.7,681.7 L494.7,681.5 L501.2,682.5 L503.7,681.5 L506.7,681.9 L512.7,681.9 L516.2,681.2 L518.7,681.7 L522.2,681.3 L524.7,681.6 L533.2,681.7 L537.2,682.0 L539.2,682.7 L540.2,682.9 L544.2,680.8 L546.7,680.3 L547.7,680.4 L548.7,680.8 L551.2,682.9 L552.2,683.4 L553.2,683.1 L558.2,679.7 L559.7,679.3 L560.7,679.5 L561.7,679.8 L565.2,682.6 L567.7,683.4 L568.7,683.1 L569.2,682.6 L570.2,680.8 L572.3,676.2 L573.3,674.9 L573.8,674.9 L574.8,675.9 L578.3,682.3 L579.8,684.3 L580.3,684.8 L580.8,684.8 L581.3,684.2 L582.3,681.1 L585.3,667.2 L586.3,664.3 L586.8,663.5 L587.3,663.4 L587.8,664.0 L589.8,668.6 L590.3,669.4 L591.3,670.1 L591.8,671.1 L593.3,676.8 L593.8,678.3 L594.3,678.9 L594.8,677.9 L595.8,671.9 L596.8,667.8 L597.3,667.8 L597.8,670.0 L598.3,655.4 L602.8,410.7 L605.3,292.9 L607.8,194.1 L608.8,162.7 L609.8,140.5 L610.8,160.7 L611.8,191.6 L614.8,311.9 L617.8,458.0 L621.3,651.1 L621.8,653.1 L622.3,652.9 L623.3,651.5 L625.3,647.1 L625.8,646.6 L626.8,646.2 L627.3,645.7 L629.8,642.4 L630.3,642.1 L630.8,642.4 L631.3,643.5 L633.3,650.9 L633.8,652.1 L634.3,652.5 L634.8,653.4 L636.3,666.8 L636.8,669.1 L637.8,669.2 L638.8,668.7 L641.3,665.5 L642.3,664.7 L642.8,664.6 L643.3,664.8 L644.3,665.7 L648.3,671.8 L649.3,672.5 L653.3,672.0 L658.3,670.2 L659.3,670.2 L660.8,671.2 L664.3,674.4 L665.8,675.0 L668.8,675.4 L672.3,675.1 L677.8,675.9 L680.8,675.8 L684.3,676.7 L690.3,676.8 L692.8,676.6 L695.8,677.2 L697.8,677.3 L699.3,677.1 L701.3,675.9 L702.3,675.6 L705.3,675.9 L710.3,673.5 L711.8,673.1 L713.3,673.5 L715.3,674.4 L716.8,675.6 L720.3,678.9 L721.3,679.3 L722.3,679.5 L725.8,679.0 L728.8,679.2 L731.8,678.7 L734.8,678.8 L737.8,678.4 L741.3,678.7 L743.8,678.3 L744.8,678.4 L746.8,679.2 L750.3,678.9 L752.8,678.5 L755.3,679.1 L756.3,679.2 L758.3,678.4 L759.3,678.2 L761.8,678.4 L765.3,678.2 L767.8,678.6 L771.3,678.4 L779.8,679.1 L782.8,678.7 L786.3,679.0 L788.8,678.6 L791.8,679.1 L794.8,678.7 L798.3,678.9 L800.8,678.3 L803.8,678.8 L807.3,678.5 L809.8,679.0 L812.8,678.7 L815.8,678.7 L819.3,679.0 L827.8,678.3 L830.3,678.8 L834.3,679.2 L837.3,679.1 L839.8,678.3 L842.8,678.5 L845.8,678.2 L848.8,678.9 L855.3,679.0 L857.3,678.5 L858.3,678.4 L861.8,678.5 L866.9,679.1 L869.9,678.5 L872.9,679.2 L875.9,678.7 L878.9,679.2 L881.9,679.4 L884.9,678.9 L888.4,679.3 L890.9,678.8 L896.4,679.3 L899.9,679.3 L902.9,678.5 L909.4,678.9 L911.9,679.4 L914.9,678.7 L917.9,678.6 L920.9,678.9 L924.4,678.7 L926.9,679.3 L930.4,679.1 L932.9,678.6 L935.9,679.5 L938.9,679.0 L941.9,679.4 L944.9,678.8 L947.9,678.9 L950.9,678.7 L953.9,679.1 L957.4,679.1 L959.9,679.4 L971.9,679.0 L977.9,679.4 L980.9,679.0 L986.9,679.8 L989.9,679.3 L998.9,679.8 L1004.9,679.6 L1007.9,679.1 L1011.4,679.4 L1013.9,679.8 L1016.4,679.1 L1017.4,679.1 L1020.4,679.2 L1022.9,680.0 L1025.9,679.7 L1028.9,680.1 L1031.9,679.9 L1034.9,680.2 L1037.9,679.5 L1040.9,679.9 L1044.4,679.6 L1046.9,680.2 L1049.9,679.5 L1052.9,679.4 L1055.9,680.1 L1058.9,679.6 L1064.9,680.0 L1067.9,679.7 L1076.9,679.7 L1079.9,680.2 L1085.9,680.0 L1088.9,680.3 L1091.9,679.7 L1098.4,679.5 L1101.4,679.6 L1103.9,680.6 L1107.4,680.6 L1109.9,680.3 L1112.9,680.7 L1115.9,680.2 L1121.9,680.2 L1124.9,679.7 L1127.9,680.5 L1130.9,680.0 L1136.9,680.7 L1139.9,680.0 L1148.9,680.7 L1152.4,680.5 L1154.9,680.2 L1158.5,680.4 L1161.0,680.0 L1166.5,680.9 L1170.0,680.9 L1173.0,680.1 L1175.5,680.5 L1179.0,680.6 L1182.0,680.1 L1185.0,681.0 L1187.5,680.3 L1191.0,680.2 L1193.5,680.5 L1197.5,680.6 L1202.5,681.0 L1203.5,680.9 L1206.0,680.4 L1209.0,680.8 L1224.0,680.5 L1227.0,681.2 L1233.0,680.9 L1236.0,681.1 L1239.5,680.8 L1242.0,680.2 L1245.5,680.5 L1248.0,681.1 L1251.0,680.6 L1254.0,681.2 L1259.5,680.7 L1263.5,680.7 L1266.0,680.3 L1269.0,680.7 L1272.5,680.3 L1275.5,680.6 L1278.0,681.3 L1281.0,680.4 L1284.0,681.0 L1296.0,681.2 L1299.0,680.6 L1305.0,680.4 L1308.0,681.0 L1310.5,680.5 L1314.0,680.5 L1317.0,681.3 L1320.0,680.9 L1323.5,681.0 L1329.0,680.4 L1331.5,681.2 L1332.5,681.2 L1335.5,680.9 L1338.0,680.3 L1341.0,681.3 L1344.0,680.8 L1347.0,680.9 L1350.0,680.7 L1353.5,680.7 L1356.0,681.1 L1358.5,680.6 L1362.0,680.3 L1365.5,680.7 L1368.0,681.3 L1371.0,680.4 L1373.5,680.9 L1377.0,681.2 L1379.5,680.9 L1386.0,680.9 L1389.0,680.6 L1392.5,680.7 L1395.0,681.3 L1404.0,680.8 L1407.0,681.3 L1413.0,681.3 L1415.5,680.9 L1422.0,680.5 L1425.5,680.6 L1428.0,681.2 L1431.0,680.5 L1434.0,681.3 L1436.5,681.0 L1440.0,681.2 L1443.0,680.9 L1446.0,681.1 L1449.0,680.9 L1452.0,681.2 L1455.1,680.9 L1461.1,681.2 L1463.6,680.7 L1467.1,680.4 L1469.6,681.0 L1473.1,681.2 L1476.1,681.2 L1479.1,680.5 L1482.1,681.2 L1484.6,680.9 L1488.1,680.9 L1491.1,680.5 L1494.1,681.2 L1497.1,680.6 L1500.1,681.1 L1503.1,680.7 L1506.1,681.4 L1511.6,680.7 L1515.1,680.9 L1518.1,680.5 L1524.1,681.4 L1527.1,681.4 L1530.1,680.7 L1539.1,680.9 L1542.1,681.4 L1545.1,680.4 L1548.6,680.6 L1551.1,681.0 L1554.6,680.7 L1557.6,680.8 L1560.1,681.1 L1562.6,680.6 L1566.1,680.4 L1569.1,681.4 L1571.6,680.8 L1578.1,680.4 L1581.1,681.1 L1587.1,680.8 L1590.1,681.5 L1596.1,681.2 L1599.1,681.4 L1602.1,680.6 L1605.1,681.5 L1608.1,680.4 L1610.6,681.0 L1614.1,681.4 L1620.1,681.2 L1623.1,681.4 L1629.1,680.6 L1632.1,681.4 L1635.1,680.6 L1637.6,680.9 L1643.6,681.0 L1650.1,680.7 L1653.1,681.4 L1656.1,680.8 L1659.1,681.2 L1664.6,680.7 L1668.1,680.7 L1671.1,681.5 L1674.1,681.4 L1677.1,680.6 L1680.1,680.7 L1683.1,681.5 L1686.1,681.4 L1689.1,680.8 L1692.1,681.0 L1698.6,680.9 L1704.1,681.3 L1710.1,681.2 L1713.1,680.5 L1716.6,680.8 L1718.6,681.1 L1722.1,681.2 L1725.1,681.0 L1731.1,681.5 L1733.6,681.2 L1737.1,681.4 L1740.1,680.8 L1743.1,681.3 L1746.2,681.0 L1749.7,681.3 L1752.7,681.1 L1755.2,680.8 L1757.7,681.3 L1761.2,681.3 L1766.7,680.6 L1770.2,680.9 L1775.2,680.6" fill="none" stroke="#fff" stroke-opacity="0.6" stroke-width="11.4" stroke-linejoin="round"/>
<path d="M453.2,682.9 L455.7,682.5 L459.2,682.5 L461.7,681.9 L465.2,682.6 L467.7,682.0 L471.2,681.7 L473.2,682.4 L474.2,682.5 L476.7,682.0 L479.7,682.3 L483.2,682.2 L485.7,681.7 L494.7,681.5 L501.2,682.5 L503.7,681.5 L506.7,681.9 L512.7,681.9 L516.2,681.2 L518.7,681.7 L522.2,681.3 L524.7,681.6 L533.2,681.7 L537.2,682.0 L539.2,682.7 L540.2,682.9 L544.2,680.8 L546.7,680.3 L547.7,680.4 L548.7,680.8 L551.2,682.9 L552.2,683.4 L553.2,683.1 L558.2,679.7 L559.7,679.3 L560.7,679.5 L561.7,679.8 L565.2,682.6 L567.7,683.4 L568.7,683.1 L569.2,682.6 L570.2,680.8 L572.3,676.2 L573.3,674.9 L573.8,674.9 L574.8,675.9 L578.3,682.3 L579.8,684.3 L580.3,684.8 L580.8,684.8 L581.3,684.2 L582.3,681.1 L585.3,667.2 L586.3,664.3 L586.8,663.5 L587.3,663.4 L587.8,664.0 L589.8,668.6 L590.3,669.4 L591.3,670.1 L591.8,671.1 L593.3,676.8 L593.8,678.3 L594.3,678.9 L594.8,677.9 L595.8,671.9 L596.8,667.8 L597.3,667.8 L597.8,670.0 L598.3,655.4 L602.8,410.7 L605.3,292.9 L607.8,194.1 L608.8,162.7 L609.8,140.5 L610.8,160.7 L611.8,191.6 L614.8,311.9 L617.8,458.0 L621.3,651.1 L621.8,653.1 L622.3,652.9 L623.3,651.5 L625.3,647.1 L625.8,646.6 L626.8,646.2 L627.3,645.7 L629.8,642.4 L630.3,642.1 L630.8,642.4 L631.3,643.5 L633.3,650.9 L633.8,652.1 L634.3,652.5 L634.8,653.4 L636.3,666.8 L636.8,669.1 L637.8,669.2 L638.8,668.7 L641.3,665.5 L642.3,664.7 L642.8,664.6 L643.3,664.8 L644.3,665.7 L648.3,671.8 L649.3,672.5 L653.3,672.0 L658.3,670.2 L659.3,670.2 L660.8,671.2 L664.3,674.4 L665.8,675.0 L668.8,675.4 L672.3,675.1 L677.8,675.9 L680.8,675.8 L684.3,676.7 L690.3,676.8 L692.8,676.6 L695.8,677.2 L697.8,677.3 L699.3,677.1 L701.3,675.9 L702.3,675.6 L705.3,675.9 L710.3,673.5 L711.8,673.1 L713.3,673.5 L715.3,674.4 L716.8,675.6 L720.3,678.9 L721.3,679.3 L722.3,679.5 L725.8,679.0 L728.8,679.2 L731.8,678.7 L734.8,678.8 L737.8,678.4 L741.3,678.7 L743.8,678.3 L744.8,678.4 L746.8,679.2 L750.3,678.9 L752.8,678.5 L755.3,679.1 L756.3,679.2 L758.3,678.4 L759.3,678.2 L761.8,678.4 L765.3,678.2 L767.8,678.6 L771.3,678.4 L779.8,679.1 L782.8,678.7 L786.3,679.0 L788.8,678.6 L791.8,679.1 L794.8,678.7 L798.3,678.9 L800.8,678.3 L803.8,678.8 L807.3,678.5 L809.8,679.0 L812.8,678.7 L815.8,678.7 L819.3,679.0 L827.8,678.3 L830.3,678.8 L834.3,679.2 L837.3,679.1 L839.8,678.3 L842.8,678.5 L845.8,678.2 L848.8,678.9 L855.3,679.0 L857.3,678.5 L858.3,678.4 L861.8,678.5 L866.9,679.1 L869.9,678.5 L872.9,679.2 L875.9,678.7 L878.9,679.2 L881.9,679.4 L884.9,678.9 L888.4,679.3 L890.9,678.8 L896.4,679.3 L899.9,679.3 L902.9,678.5 L909.4,678.9 L911.9,679.4 L914.9,678.7 L917.9,678.6 L920.9,678.9 L924.4,678.7 L926.9,679.3 L930.4,679.1 L932.9,678.6 L935.9,679.5 L938.9,679.0 L941.9,679.4 L944.9,678.8 L947.9,678.9 L950.9,678.7 L953.9,679.1 L957.4,679.1 L959.9,679.4 L971.9,679.0 L977.9,679.4 L980.9,679.0 L986.9,679.8 L989.9,679.3 L998.9,679.8 L1004.9,679.6 L1007.9,679.1 L1011.4,679.4 L1013.9,679.8 L1016.4,679.1 L1017.4,679.1 L1020.4,679.2 L1022.9,680.0 L1025.9,679.7 L1028.9,680.1 L1031.9,679.9 L1034.9,680.2 L1037.9,679.5 L1040.9,679.9 L1044.4,679.6 L1046.9,680.2 L1049.9,679.5 L1052.9,679.4 L1055.9,680.1 L1058.9,679.6 L1064.9,680.0 L1067.9,679.7 L1076.9,679.7 L1079.9,680.2 L1085.9,680.0 L1088.9,680.3 L1091.9,679.7 L1098.4,679.5 L1101.4,679.6 L1103.9,680.6 L1107.4,680.6 L1109.9,680.3 L1112.9,680.7 L1115.9,680.2 L1121.9,680.2 L1124.9,679.7 L1127.9,680.5 L1130.9,680.0 L1136.9,680.7 L1139.9,680.0 L1148.9,680.7 L1152.4,680.5 L1154.9,680.2 L1158.5,680.4 L1161.0,680.0 L1166.5,680.9 L1170.0,680.9 L1173.0,680.1 L1175.5,680.5 L1179.0,680.6 L1182.0,680.1 L1185.0,681.0 L1187.5,680.3 L1191.0,680.2 L1193.5,680.5 L1197.5,680.6 L1202.5,681.0 L1203.5,680.9 L1206.0,680.4 L1209.0,680.8 L1224.0,680.5 L1227.0,681.2 L1233.0,680.9 L1236.0,681.1 L1239.5,680.8 L1242.0,680.2 L1245.5,680.5 L1248.0,681.1 L1251.0,680.6 L1254.0,681.2 L1259.5,680.7 L1263.5,680.7 L1266.0,680.3 L1269.0,680.7 L1272.5,680.3 L1275.5,680.6 L1278.0,681.3 L1281.0,680.4 L1284.0,681.0 L1296.0,681.2 L1299.0,680.6 L1305.0,680.4 L1308.0,681.0 L1310.5,680.5 L1314.0,680.5 L1317.0,681.3 L1320.0,680.9 L1323.5,681.0 L1329.0,680.4 L1331.5,681.2 L1332.5,681.2 L1335.5,680.9 L1338.0,680.3 L1341.0,681.3 L1344.0,680.8 L1347.0,680.9 L1350.0,680.7 L1353.5,680.7 L1356.0,681.1 L1358.5,680.6 L1362.0,680.3 L1365.5,680.7 L1368.0,681.3 L1371.0,680.4 L1373.5,680.9 L1377.0,681.2 L1379.5,680.9 L1386.0,680.9 L1389.0,680.6 L1392.5,680.7 L1395.0,681.3 L1404.0,680.8 L1407.0,681.3 L1413.0,681.3 L1415.5,680.9 L1422.0,680.5 L1425.5,680.6 L1428.0,681.2 L1431.0,680.5 L1434.0,681.3 L1436.5,681.0 L1440.0,681.2 L1443.0,680.9 L1446.0,681.1 L1449.0,680.9 L1452.0,681.2 L1455.1,680.9 L1461.1,681.2 L1463.6,680.7 L1467.1,680.4 L1469.6,681.0 L1473.1,681.2 L1476.1,681.2 L1479.1,680.5 L1482.1,681.2 L1484.6,680.9 L1488.1,680.9 L1491.1,680.5 L1494.1,681.2 L1497.1,680.6 L1500.1,681.1 L1503.1,680.7 L1506.1,681.4 L1511.6,680.7 L1515.1,680.9 L1518.1,680.5 L1524.1,681.4 L1527.1,681.4 L1530.1,680.7 L1539.1,680.9 L1542.1,681.4 L1545.1,680.4 L1548.6,680.6 L1551.1,681.0 L1554.6,680.7 L1557.6,680.8 L1560.1,681.1 L1562.6,680.6 L1566.1,680.4 L1569.1,681.4 L1571.6,680.8 L1578.1,680.4 L1581.1,681.1 L1587.1,680.8 L1590.1,681.5 L1596.1,681.2 L1599.1,681.4 L1602.1,680.6 L1605.1,681.5 L1608.1,680.4 L1610.6,681.0 L1614.1,681.4 L1620.1,681.2 L1623.1,681.4 L1629.1,680.6 L1632.1,681.4 L1635.1,680.6 L1637.6,680.9 L1643.6,681.0 L1650.1,680.7 L1653.1,681.4 L1656.1,680.8 L1659.1,681.2 L1664.6,680.7 L1668.1,680.7 L1671.1,681.5 L1674.1,681.4 L1677.1,680.6 L1680.1,680.7 L1683.1,681.5 L1686.1,681.4 L1689.1,680.8 L1692.1,681.0 L1698.6,680.9 L1704.1,681.3 L1710.1,681.2 L1713.1,680.5 L1716.6,680.8 L1718.6,681.1 L1722.1,681.2 L1725.1,681.0 L1731.1,681.5 L1733.6,681.2 L1737.1,681.4 L1740.1,680.8 L1743.1,681.3 L1746.2,681.0 L1749.7,681.3 L1752.7,681.1 L1755.2,680.8 L1757.7,681.3 L1761.2,681.3 L1766.7,680.6 L1770.2,680.9 L1775.2,680.6" fill="none" stroke="#b6d14a" stroke-width="9.0" stroke-linejoin="round" stroke-linecap="butt"/>
<rect x="681.3" y="669.9" width="11.4" height="12.9" fill="#fff"/>
<rect x="1165.5" y="674.1" width="8.6" height="12.9" fill="#fff"/>
<rect x="1164.0" y="758.7" width="11.6" height="13.0" fill="#fff"/>
<rect x="1132.1" y="674.2" width="5.6" height="12.6" fill="#fff"/>
<rect x="1130.5" y="758.8" width="8.8" height="13.0" fill="#fff"/>
<rect x="1129.2" y="827.0" width="11.5" height="22.5" fill="#fff"/>
<rect x="1030.9" y="673.9" width="2.2" height="12.1" fill="#fff"/>
<rect x="1029.2" y="758.9" width="5.6" height="12.2" fill="#fff"/>
<rect x="1027.7" y="839.6" width="8.6" height="12.7" fill="#fff"/>
<rect x="1026.2" y="919.9" width="11.5" height="12.7" fill="#fff"/>
<rect x="962.2" y="758.8" width="2.3" height="12.8" fill="#fff"/>
<rect x="960.5" y="839.7" width="5.5" height="12.7" fill="#fff"/>
<rect x="959.0" y="919.9" width="8.6" height="12.4" fill="#fff"/>
<rect x="957.5" y="1002.5" width="11.5" height="12.9" fill="#fff"/>
<line x1="460.31" y1="675.75" x2="448.26" y2="689.75" stroke="#8a8a8a" stroke-width="1.5" stroke-linecap="butt" stroke-opacity="0.8"/>
<line x1="389.94" y1="757.50" x2="377.89" y2="771.50" stroke="#8a8a8a" stroke-width="1.5" stroke-linecap="butt" stroke-opacity="0.8"/>
<line x1="319.68" y1="839.13" x2="307.63" y2="853.13" stroke="#8a8a8a" stroke-width="1.5" stroke-linecap="butt" stroke-opacity="0.8"/>
<line x1="249.79" y1="920.34" x2="237.74" y2="934.34" stroke="#8a8a8a" stroke-width="1.5" stroke-linecap="butt" stroke-opacity="0.8"/>
<line x1="179.15" y1="1002.41" x2="167.10" y2="1016.41" stroke="#8a8a8a" stroke-width="1.5" stroke-linecap="butt" stroke-opacity="0.8"/>
<line x1="107.68" y1="1085.46" x2="95.63" y2="1099.46" stroke="#8a8a8a" stroke-width="1.5" stroke-linecap="butt" stroke-opacity="0.8"/>
<line x1="686.58" y1="668.84" x2="674.53" y2="682.84" stroke="#8a8a8a" stroke-width="1.5" stroke-linecap="butt" stroke-opacity="0.8"/>
<line x1="609.98" y1="757.83" x2="597.93" y2="771.83" stroke="#8a8a8a" stroke-width="1.5" stroke-linecap="butt" stroke-opacity="0.8"/>
<line x1="540.27" y1="838.82" x2="528.22" y2="852.82" stroke="#8a8a8a" stroke-width="1.5" stroke-linecap="butt" stroke-opacity="0.8"/>
<line x1="470.17" y1="920.27" x2="458.12" y2="934.27" stroke="#8a8a8a" stroke-width="1.5" stroke-linecap="butt" stroke-opacity="0.8"/>
<line x1="400.12" y1="1001.67" x2="388.07" y2="1015.67" stroke="#8a8a8a" stroke-width="1.5" stroke-linecap="butt" stroke-opacity="0.8"/>
<line x1="328.34" y1="1085.07" x2="316.29" y2="1099.07" stroke="#8a8a8a" stroke-width="1.5" stroke-linecap="butt" stroke-opacity="0.8"/>
<line x1="903.93" y1="672.29" x2="891.88" y2="686.29" stroke="#8a8a8a" stroke-width="1.5" stroke-linecap="butt" stroke-opacity="0.8"/>
<line x1="829.78" y1="758.44" x2="817.73" y2="772.44" stroke="#8a8a8a" stroke-width="1.5" stroke-linecap="butt" stroke-opacity="0.8"/>
<line x1="760.38" y1="839.08" x2="748.33" y2="853.08" stroke="#8a8a8a" stroke-width="1.5" stroke-linecap="butt" stroke-opacity="0.8"/>
<line x1="690.69" y1="920.05" x2="678.64" y2="934.05" stroke="#8a8a8a" stroke-width="1.5" stroke-linecap="butt" stroke-opacity="0.8"/>
<line x1="620.58" y1="1001.51" x2="608.53" y2="1015.51" stroke="#8a8a8a" stroke-width="1.5" stroke-linecap="butt" stroke-opacity="0.8"/>
<line x1="548.74" y1="1084.99" x2="536.69" y2="1098.99" stroke="#8a8a8a" stroke-width="1.5" stroke-linecap="butt" stroke-opacity="0.8"/>
<line x1="1123.52" y1="673.15" x2="1111.47" y2="687.15" stroke="#8a8a8a" stroke-width="1.5" stroke-linecap="butt" stroke-opacity="0.8"/>
<line x1="1050.52" y1="757.96" x2="1038.47" y2="771.96" stroke="#8a8a8a" stroke-width="1.5" stroke-linecap="butt" stroke-opacity="0.8"/>
<line x1="980.95" y1="838.79" x2="968.90" y2="852.79" stroke="#8a8a8a" stroke-width="1.5" stroke-linecap="butt" stroke-opacity="0.8"/>
<line x1="911.87" y1="919.05" x2="899.82" y2="933.05" stroke="#8a8a8a" stroke-width="1.5" stroke-linecap="butt" stroke-opacity="0.8"/>
<line x1="840.35" y1="1002.16" x2="828.30" y2="1016.16" stroke="#8a8a8a" stroke-width="1.5" stroke-linecap="butt" stroke-opacity="0.8"/>
<line x1="768.44" y1="1085.71" x2="756.39" y2="1099.71" stroke="#8a8a8a" stroke-width="1.5" stroke-linecap="butt" stroke-opacity="0.8"/>
<line x1="1343.58" y1="673.45" x2="1331.53" y2="687.45" stroke="#8a8a8a" stroke-width="1.5" stroke-linecap="butt" stroke-opacity="0.8"/>
<line x1="1270.65" y1="758.19" x2="1258.60" y2="772.19" stroke="#8a8a8a" stroke-width="1.5" stroke-linecap="butt" stroke-opacity="0.8"/>
<line x1="1207.52" y1="831.54" x2="1195.47" y2="845.54" stroke="#8a8a8a" stroke-width="1.5" stroke-linecap="butt" stroke-opacity="0.8"/>
<line x1="1288.68" y1="737.23" x2="1276.63" y2="751.23" stroke="#8a8a8a" stroke-width="1.5" stroke-linecap="butt" stroke-opacity="0.8"/>
<line x1="1563.59" y1="673.82" x2="1551.54" y2="687.82" stroke="#8a8a8a" stroke-width="1.5" stroke-linecap="butt" stroke-opacity="0.8"/>
<line x1="1490.91" y1="758.27" x2="1478.86" y2="772.27" stroke="#8a8a8a" stroke-width="1.5" stroke-linecap="butt" stroke-opacity="0.8"/>
<line x1="1421.90" y1="838.45" x2="1409.85" y2="852.45" stroke="#8a8a8a" stroke-width="1.5" stroke-linecap="butt" stroke-opacity="0.8"/>
<line x1="1353.21" y1="918.26" x2="1341.16" y2="932.26" stroke="#8a8a8a" stroke-width="1.5" stroke-linecap="butt" stroke-opacity="0.8"/>
<line x1="1280.52" y1="1002.71" x2="1268.47" y2="1016.71" stroke="#8a8a8a" stroke-width="1.5" stroke-linecap="butt" stroke-opacity="0.8"/>
<line x1="1209.55" y1="1085.17" x2="1197.50" y2="1099.17" stroke="#8a8a8a" stroke-width="1.5" stroke-linecap="butt" stroke-opacity="0.8"/>
<line x1="488.42" y1="98.08" x2="1810.37" y2="98.08" stroke="#000" stroke-width="16.5" stroke-linecap="butt" />
<line x1="65.90" y1="589.00" x2="488.42" y2="98.08" stroke="#000" stroke-width="16.5" stroke-linecap="butt" />
<line x1="65.90" y1="1148.00" x2="65.90" y2="589.00" stroke="#000" stroke-width="16.5" stroke-linecap="butt" />
<line x1="65.90" y1="1134.00" x2="1387.85" y2="1134.00" stroke="#000" stroke-width="16.5" stroke-linecap="butt" />
<line x1="1387.85" y1="1134.00" x2="1810.37" y2="643.08" stroke="#000" stroke-width="16.5" stroke-linecap="butt" />
<line x1="1810.37" y1="643.08" x2="1810.37" y2="98.08" stroke="#000" stroke-width="16.5" stroke-linecap="butt" />
<line x1="65.90" y1="1134.00" x2="65.90" y2="1148.00" stroke="#000" stroke-width="16.5" stroke-linecap="butt" />
<line x1="286.23" y1="1134.00" x2="286.23" y2="1148.00" stroke="#000" stroke-width="16.5" stroke-linecap="butt" />
<line x1="506.55" y1="1134.00" x2="506.55" y2="1148.00" stroke="#000" stroke-width="16.5" stroke-linecap="butt" />
<line x1="726.87" y1="1134.00" x2="726.87" y2="1148.00" stroke="#000" stroke-width="16.5" stroke-linecap="butt" />
<line x1="947.20" y1="1134.00" x2="947.20" y2="1148.00" stroke="#000" stroke-width="16.5" stroke-linecap="butt" />
<line x1="1167.53" y1="1134.00" x2="1167.53" y2="1148.00" stroke="#000" stroke-width="16.5" stroke-linecap="butt" />
<line x1="1387.85" y1="1134.00" x2="1387.85" y2="1148.00" stroke="#000" stroke-width="16.5" stroke-linecap="butt" />
<line x1="1810.37" y1="643.08" x2="1824.87" y2="643.08" stroke="#000" stroke-width="16.5" stroke-linecap="butt" />
<line x1="1810.37" y1="534.08" x2="1824.87" y2="534.08" stroke="#000" stroke-width="16.5" stroke-linecap="butt" />
<line x1="1810.37" y1="425.08" x2="1824.87" y2="425.08" stroke="#000" stroke-width="16.5" stroke-linecap="butt" />
<line x1="1810.37" y1="316.08" x2="1824.87" y2="316.08" stroke="#000" stroke-width="16.5" stroke-linecap="butt" />
<line x1="1810.37" y1="207.08" x2="1824.87" y2="207.08" stroke="#000" stroke-width="16.5" stroke-linecap="butt" />
<line x1="1810.37" y1="98.08" x2="1824.87" y2="98.08" stroke="#000" stroke-width="16.5" stroke-linecap="butt" />
<line x1="1423.06" y1="1093.09" x2="1438.06" y2="1093.09" stroke="#000" stroke-width="16.5" stroke-linecap="butt" />
<line x1="1493.48" y1="1011.27" x2="1508.48" y2="1011.27" stroke="#000" stroke-width="16.5" stroke-linecap="butt" />
<line x1="1563.90" y1="929.45" x2="1578.90" y2="929.45" stroke="#000" stroke-width="16.5" stroke-linecap="butt" />
<line x1="1634.32" y1="847.63" x2="1649.32" y2="847.63" stroke="#000" stroke-width="16.5" stroke-linecap="butt" />
<line x1="1704.74" y1="765.81" x2="1719.74" y2="765.81" stroke="#000" stroke-width="16.5" stroke-linecap="butt" />
<line x1="1775.16" y1="683.99" x2="1790.16" y2="683.99" stroke="#000" stroke-width="16.5" stroke-linecap="butt" />
<text x="67" y="67" font-size="60" font-family="'Liberation Serif','Times New Roman',serif" font-weight="bold">(a)</text>
<text x="1802" y="158.5" font-size="58.8" text-anchor="end" font-family="'Liberation Serif','Times New Roman',serif" font-weight="bold">#5 MOPA with Period=537nm</text>
<text x="65.9" y="1195" font-size="47" text-anchor="middle" font-family="'Liberation Serif','Times New Roman',serif" font-weight="bold">1900</text>
<text x="286.2" y="1195" font-size="47" text-anchor="middle" font-family="'Liberation Serif','Times New Roman',serif" font-weight="bold">1905</text>
<text x="506.5" y="1195" font-size="47" text-anchor="middle" font-family="'Liberation Serif','Times New Roman',serif" font-weight="bold">1910</text>
<text x="726.9" y="1195" font-size="47" text-anchor="middle" font-family="'Liberation Serif','Times New Roman',serif" font-weight="bold">1915</text>
<text x="947.2" y="1195" font-size="47" text-anchor="middle" font-family="'Liberation Serif','Times New Roman',serif" font-weight="bold">1920</text>
<text x="1167.5" y="1195" font-size="47" text-anchor="middle" font-family="'Liberation Serif','Times New Roman',serif" font-weight="bold">1925</text>
<text x="1387.8" y="1195" font-size="47" text-anchor="middle" font-family="'Liberation Serif','Times New Roman',serif" font-weight="bold">1930</text>
<text x="726" y="1287" font-size="47" text-anchor="middle" font-family="'Liberation Serif','Times New Roman',serif" font-weight="bold">λ (nm)</text>
<text x="1834" y="659.1" font-size="47" font-family="'Liberation Serif','Times New Roman',serif" font-weight="bold">0.0</text>
<text x="1834" y="550.1" font-size="47" font-family="'Liberation Serif','Times New Roman',serif" font-weight="bold">0.2</text>
<text x="1834" y="441.1" font-size="47" font-family="'Liberation Serif','Times New Roman',serif" font-weight="bold">0.4</text>
<text x="1834" y="332.1" font-size="47" font-family="'Liberation Serif','Times New Roman',serif" font-weight="bold">0.6</text>
<text x="1834" y="223.1" font-size="47" font-family="'Liberation Serif','Times New Roman',serif" font-weight="bold">0.8</text>
<text x="1834" y="114.1" font-size="47" font-family="'Liberation Serif','Times New Roman',serif" font-weight="bold">1.0</text>
<text transform="translate(1952,371) rotate(-90)" font-size="47" text-anchor="middle" font-family="'Liberation Serif','Times New Roman',serif" font-weight="bold">Intensity (a.u)</text>
<text transform="matrix(1.16,0,-0.79,0.94,1812.0,706.5)" font-size="40" font-family="'Liberation Serif','Times New Roman',serif" font-weight="bold">1.0A</text>
<text transform="matrix(1.16,0,-0.79,0.94,1741.5,788.3)" font-size="40" font-family="'Liberation Serif','Times New Roman',serif" font-weight="bold">1.2A</text>
<text transform="matrix(1.16,0,-0.79,0.94,1671.1,870.1)" font-size="40" font-family="'Liberation Serif','Times New Roman',serif" font-weight="bold">1.4A</text>
<text transform="matrix(1.16,0,-0.79,0.94,1600.7,952.0)" font-size="40" font-family="'Liberation Serif','Times New Roman',serif" font-weight="bold">1.6A</text>
<text transform="matrix(1.16,0,-0.79,0.94,1530.3,1033.8)" font-size="40" font-family="'Liberation Serif','Times New Roman',serif" font-weight="bold">1.8A</text>
<text transform="matrix(1.16,0,-0.79,0.94,1459.9,1115.6)" font-size="40" font-family="'Liberation Serif','Times New Roman',serif" font-weight="bold">1.9A</text>
<text transform="matrix(0.652,-0.758,1.0,0,1765,980)" font-size="47" font-family="'Liberation Serif','Times New Roman',serif" font-weight="bold">Current (A)</text>
<rect x="655.1" y="2409.6" width="103.5" height="284.4" fill="#1a6ae0"/>
<rect x="775.0" y="2423.1" width="103.5" height="270.9" fill="#b474de"/>
<rect x="1093.3" y="2084.2" width="103.5" height="609.8" fill="#1a6ae0"/>
<rect x="1213.2" y="2152.0" width="103.5" height="542.0" fill="#b474de"/>
<rect x="1531.8" y="2206.2" width="103.5" height="487.8" fill="#1a6ae0"/>
<rect x="1651.7" y="2043.5" width="103.5" height="650.5" fill="#b474de"/>
<line x1="320.70" y1="1542.00" x2="1857.00" y2="1542.00" stroke="#000" stroke-width="13.8" stroke-linecap="butt" />
<line x1="321.00" y1="2694.30" x2="1857.00" y2="2694.30" stroke="#000" stroke-width="13" stroke-linecap="butt" />
<line x1="766.80" y1="2694.00" x2="766.80" y2="2716.30" stroke="#000" stroke-width="13.8" stroke-linecap="butt" />
<line x1="1205.00" y1="2694.00" x2="1205.00" y2="2716.30" stroke="#000" stroke-width="13.8" stroke-linecap="butt" />
<line x1="1643.50" y1="2694.00" x2="1643.50" y2="2716.30" stroke="#000" stroke-width="13.8" stroke-linecap="butt" />
<line x1="327.80" y1="1549.00" x2="327.80" y2="2701.50" stroke="#1a6ae0" stroke-width="12.8" stroke-linecap="butt" />
<line x1="306.00" y1="2626.52" x2="328.00" y2="2626.52" stroke="#1a6ae0" stroke-width="13" stroke-linecap="butt" />
<line x1="306.00" y1="2423.14" x2="328.00" y2="2423.14" stroke="#1a6ae0" stroke-width="13" stroke-linecap="butt" />
<line x1="306.00" y1="2219.76" x2="328.00" y2="2219.76" stroke="#1a6ae0" stroke-width="13" stroke-linecap="butt" />
<line x1="306.00" y1="2016.37" x2="328.00" y2="2016.37" stroke="#1a6ae0" stroke-width="13" stroke-linecap="butt" />
<line x1="306.00" y1="1812.98" x2="328.00" y2="1812.98" stroke="#1a6ae0" stroke-width="13" stroke-linecap="butt" />
<line x1="306.00" y1="1609.60" x2="328.00" y2="1609.60" stroke="#1a6ae0" stroke-width="13" stroke-linecap="butt" />
<line x1="316.50" y1="2524.83" x2="328.00" y2="2524.83" stroke="#1a6ae0" stroke-width="13" stroke-linecap="butt" />
<line x1="316.50" y1="2321.45" x2="328.00" y2="2321.45" stroke="#1a6ae0" stroke-width="13" stroke-linecap="butt" />
<line x1="316.50" y1="2118.06" x2="328.00" y2="2118.06" stroke="#1a6ae0" stroke-width="13" stroke-linecap="butt" />
<line x1="316.50" y1="1914.68" x2="328.00" y2="1914.68" stroke="#1a6ae0" stroke-width="13" stroke-linecap="butt" />
<line x1="316.50" y1="1711.29" x2="328.00" y2="1711.29" stroke="#1a6ae0" stroke-width="13" stroke-linecap="butt" />
<line x1="558.00" y1="1549.50" x2="558.00" y2="2698.00" stroke="#b474de" stroke-width="8.8" stroke-linecap="butt" />
<line x1="535.00" y1="2626.52" x2="558.00" y2="2626.52" stroke="#b474de" stroke-width="8" stroke-linecap="butt" />
<line x1="535.00" y1="2423.14" x2="558.00" y2="2423.14" stroke="#b474de" stroke-width="8" stroke-linecap="butt" />
<line x1="535.00" y1="2219.76" x2="558.00" y2="2219.76" stroke="#b474de" stroke-width="8" stroke-linecap="butt" />
<line x1="535.00" y1="2016.37" x2="558.00" y2="2016.37" stroke="#b474de" stroke-width="8" stroke-linecap="butt" />
<line x1="535.00" y1="1812.98" x2="558.00" y2="1812.98" stroke="#b474de" stroke-width="8" stroke-linecap="butt" />
<line x1="535.00" y1="1609.60" x2="558.00" y2="1609.60" stroke="#b474de" stroke-width="8" stroke-linecap="butt" />
<line x1="546.50" y1="2524.83" x2="558.00" y2="2524.83" stroke="#b474de" stroke-width="8" stroke-linecap="butt" />
<line x1="546.50" y1="2321.45" x2="558.00" y2="2321.45" stroke="#b474de" stroke-width="8" stroke-linecap="butt" />
<line x1="546.50" y1="2118.06" x2="558.00" y2="2118.06" stroke="#b474de" stroke-width="8" stroke-linecap="butt" />
<line x1="546.50" y1="1914.68" x2="558.00" y2="1914.68" stroke="#b474de" stroke-width="8" stroke-linecap="butt" />
<line x1="546.50" y1="1711.29" x2="558.00" y2="1711.29" stroke="#b474de" stroke-width="8" stroke-linecap="butt" />
<line x1="1863.00" y1="1535.00" x2="1863.00" y2="2701.00" stroke="#f44343" stroke-width="13" stroke-linecap="butt" />
<line x1="1839.50" y1="2579.26" x2="1863.00" y2="2579.26" stroke="#f44343" stroke-width="13" stroke-linecap="butt" />
<line x1="1839.50" y1="2441.08" x2="1863.00" y2="2441.08" stroke="#f44343" stroke-width="13" stroke-linecap="butt" />
<line x1="1839.50" y1="2302.90" x2="1863.00" y2="2302.90" stroke="#f44343" stroke-width="13" stroke-linecap="butt" />
<line x1="1839.50" y1="2164.72" x2="1863.00" y2="2164.72" stroke="#f44343" stroke-width="13" stroke-linecap="butt" />
<line x1="1839.50" y1="2026.54" x2="1863.00" y2="2026.54" stroke="#f44343" stroke-width="13" stroke-linecap="butt" />
<line x1="1839.50" y1="1888.36" x2="1863.00" y2="1888.36" stroke="#f44343" stroke-width="13" stroke-linecap="butt" />
<line x1="1839.50" y1="1750.18" x2="1863.00" y2="1750.18" stroke="#f44343" stroke-width="13" stroke-linecap="butt" />
<line x1="1839.50" y1="1612.00" x2="1863.00" y2="1612.00" stroke="#f44343" stroke-width="13" stroke-linecap="butt" />
<line x1="1851.30" y1="2648.35" x2="1863.00" y2="2648.35" stroke="#f44343" stroke-width="13" stroke-linecap="butt" />
<line x1="1851.30" y1="2510.17" x2="1863.00" y2="2510.17" stroke="#f44343" stroke-width="13" stroke-linecap="butt" />
<line x1="1851.30" y1="2371.99" x2="1863.00" y2="2371.99" stroke="#f44343" stroke-width="13" stroke-linecap="butt" />
<line x1="1851.30" y1="2233.81" x2="1863.00" y2="2233.81" stroke="#f44343" stroke-width="13" stroke-linecap="butt" />
<line x1="1851.30" y1="2095.63" x2="1863.00" y2="2095.63" stroke="#f44343" stroke-width="13" stroke-linecap="butt" />
<line x1="1851.30" y1="1957.45" x2="1863.00" y2="1957.45" stroke="#f44343" stroke-width="13" stroke-linecap="butt" />
<line x1="1851.30" y1="1819.27" x2="1863.00" y2="1819.27" stroke="#f44343" stroke-width="13" stroke-linecap="butt" />
<line x1="1851.30" y1="1681.09" x2="1863.00" y2="1681.09" stroke="#f44343" stroke-width="13" stroke-linecap="butt" />
<rect x="572.7" y="1563.9" width="77.5" height="38.7" fill="#1a6ae0"/>
<rect x="572.7" y="1611.1" width="77.5" height="39.2" fill="#b474de"/>
<text x="670" y="1596.6" font-size="37" fill="#1a6ae0" font-family="'Liberation Serif','Times New Roman',serif" font-weight="bold">Power</text>
<text x="670" y="1643.8" font-size="37.7" fill="#b474de" font-family="'Liberation Serif','Times New Roman',serif" font-weight="bold">Dirfting Length</text>
<defs>
<radialGradient id="ball" cx="0.35" cy="0.3" r="0.75">
<stop offset="0" stop-color="#ffffff"/><stop offset="0.12" stop-color="#ffd0d0"/><stop offset="0.3" stop-color="#ff1a1a"/><stop offset="1" stop-color="#ee0000"/>
</radialGradient>
<radialGradient id="ball2" cx="0.35" cy="0.3" r="0.75">
<stop offset="0" stop-color="#ffffff"/><stop offset="0.12" stop-color="#ffd4d4"/><stop offset="0.3" stop-color="#f24a4a"/><stop offset="1" stop-color="#ee4040"/>
</radialGradient>
</defs>
<line x1="766.00" y1="1890.00" x2="818.70" y2="1890.00" stroke="#ff0000" stroke-width="9.5" stroke-linecap="butt" />
<line x1="766.00" y1="2074.00" x2="811.70" y2="2074.00" stroke="#ff0000" stroke-width="9.5" stroke-linecap="butt" />
<line x1="817.70" y1="1911.00" x2="817.70" y2="2060.00" stroke="#ff0000" stroke-width="9.5" stroke-linecap="butt" />
<polygon points="817.7,1891.0 808.2,1918.0 827.2,1918.0" fill="#ff0000"/>
<polygon points="817.7,2080.0 808.2,2053.0 827.2,2053.0" fill="#ff0000"/>
<circle cx="766.0" cy="1887.8" r="17.8" fill="url(#ball)"/>
<circle cx="766.0" cy="2072.0" r="17.8" fill="url(#ball2)"/>
<text x="826.7" y="2002.3" font-size="54" fill="#ff0000" font-family="'Liberation Serif','Times New Roman',serif" font-weight="bold">0.4A</text>
<line x1="1204.00" y1="1657.30" x2="1248.70" y2="1657.30" stroke="#ff0000" stroke-width="9.5" stroke-linecap="butt" />
<line x1="1204.00" y1="1888.30" x2="1248.70" y2="1888.30" stroke="#ff0000" stroke-width="9.5" stroke-linecap="butt" />
<line x1="1247.70" y1="1678.00" x2="1247.70" y2="1877.50" stroke="#ff0000" stroke-width="9.5" stroke-linecap="butt" />
<polygon points="1247.7,1658.0 1238.2,1685.0 1257.2,1685.0" fill="#ff0000"/>
<polygon points="1247.7,1897.5 1238.2,1870.5 1257.2,1870.5" fill="#ff0000"/>
<circle cx="1204.0" cy="1657.2" r="17.8" fill="url(#ball)"/>
<circle cx="1204.0" cy="1888.3" r="17.8" fill="url(#ball2)"/>
<text x="1263.6" y="1793.7" font-size="54" fill="#ff0000" font-family="'Liberation Serif','Times New Roman',serif" font-weight="bold">0.5A</text>
<line x1="1642.80" y1="1654.50" x2="1697.60" y2="1654.50" stroke="#ff0000" stroke-width="9.5" stroke-linecap="butt" />
<line x1="1642.80" y1="1749.50" x2="1697.60" y2="1749.50" stroke="#ff0000" stroke-width="9.5" stroke-linecap="butt" />
<line x1="1696.60" y1="1668.30" x2="1696.60" y2="1735.80" stroke="#ff0000" stroke-width="9.5" stroke-linecap="butt" />
<polygon points="1696.6,1648.3 1687.1,1675.3 1706.1,1675.3" fill="#ff0000"/>
<polygon points="1696.6,1755.8 1687.1,1728.8 1706.1,1728.8" fill="#ff0000"/>
<circle cx="1642.8" cy="1656.3" r="17.8" fill="url(#ball)"/>
<circle cx="1642.8" cy="1749.0" r="17.8" fill="url(#ball2)"/>
<text x="1710.1" y="1720.1" font-size="54" fill="#ff0000" font-family="'Liberation Serif','Times New Roman',serif" font-weight="bold">0.2A</text>
<text x="20" y="1487" font-size="66" font-family="'Liberation Serif','Times New Roman',serif" font-weight="bold">(b)</text>
<text x="290" y="2646.0" font-size="61" text-anchor="end" fill="#1a6ae0" font-family="'Liberation Serif','Times New Roman',serif" font-weight="bold">5</text>
<text x="446" y="2646.0" font-size="61" fill="#b474de" font-family="'Liberation Serif','Times New Roman',serif" font-weight="bold">5</text>
<text x="290" y="2442.6" font-size="61" text-anchor="end" fill="#1a6ae0" font-family="'Liberation Serif','Times New Roman',serif" font-weight="bold">20</text>
<text x="446" y="2442.6" font-size="61" fill="#b474de" font-family="'Liberation Serif','Times New Roman',serif" font-weight="bold">20</text>
<text x="290" y="2239.3" font-size="61" text-anchor="end" fill="#1a6ae0" font-family="'Liberation Serif','Times New Roman',serif" font-weight="bold">35</text>
<text x="446" y="2239.3" font-size="61" fill="#b474de" font-family="'Liberation Serif','Times New Roman',serif" font-weight="bold">35</text>
<text x="290" y="2035.9" font-size="61" text-anchor="end" fill="#1a6ae0" font-family="'Liberation Serif','Times New Roman',serif" font-weight="bold">50</text>
<text x="446" y="2035.9" font-size="61" fill="#b474de" font-family="'Liberation Serif','Times New Roman',serif" font-weight="bold">50</text>
<text x="290" y="1832.5" font-size="61" text-anchor="end" fill="#1a6ae0" font-family="'Liberation Serif','Times New Roman',serif" font-weight="bold">65</text>
<text x="446" y="1832.5" font-size="61" fill="#b474de" font-family="'Liberation Serif','Times New Roman',serif" font-weight="bold">65</text>
<text x="290" y="1629.1" font-size="61" text-anchor="end" fill="#1a6ae0" font-family="'Liberation Serif','Times New Roman',serif" font-weight="bold">80</text>
<text x="446" y="1629.1" font-size="61" fill="#b474de" font-family="'Liberation Serif','Times New Roman',serif" font-weight="bold">80</text>
<text x="1886" y="2596.3" font-size="60" fill="#f44343" font-family="'Liberation Serif','Times New Roman',serif" font-weight="bold">0.0</text>
<text x="1886" y="2458.1" font-size="60" fill="#f44343" font-family="'Liberation Serif','Times New Roman',serif" font-weight="bold">0.3</text>
<text x="1886" y="2319.9" font-size="60" fill="#f44343" font-family="'Liberation Serif','Times New Roman',serif" font-weight="bold">0.6</text>
<text x="1886" y="2181.7" font-size="60" fill="#f44343" font-family="'Liberation Serif','Times New Roman',serif" font-weight="bold">0.9</text>
<text x="1886" y="2043.5" font-size="60" fill="#f44343" font-family="'Liberation Serif','Times New Roman',serif" font-weight="bold">1.2</text>
<text x="1886" y="1905.4" font-size="60" fill="#f44343" font-family="'Liberation Serif','Times New Roman',serif" font-weight="bold">1.5</text>
<text x="1886" y="1767.2" font-size="60" fill="#f44343" font-family="'Liberation Serif','Times New Roman',serif" font-weight="bold">1.8</text>
<text x="1886" y="1629.0" font-size="60" fill="#f44343" font-family="'Liberation Serif','Times New Roman',serif" font-weight="bold">2.1</text>
<text transform="translate(205,2118.3) rotate(-90)" font-size="60" text-anchor="middle" fill="#1a6ae0" font-family="'Liberation Serif','Times New Roman',serif" font-weight="bold">Power (mW)</text>
<text transform="translate(413,2116.7) rotate(-90)" font-size="59.7" text-anchor="middle" fill="#b474de" font-family="'Liberation Serif','Times New Roman',serif" font-weight="bold">Driftiing Length (nm)</text>
<text transform="translate(2029,2117.2) rotate(-90)" font-size="59.6" text-anchor="middle" fill="#f44343" font-family="'Liberation Serif','Times New Roman',serif" font-weight="bold">Driving Current (A)</text>
<text x="766.8" y="2796" font-size="60" text-anchor="middle" font-family="'Liberation Serif','Times New Roman',serif" font-weight="bold">#4</text>
<text x="1205.0" y="2796" font-size="60" text-anchor="middle" font-family="'Liberation Serif','Times New Roman',serif" font-weight="bold">#5</text>
<text x="1643.5" y="2796" font-size="60" text-anchor="middle" font-family="'Liberation Serif','Times New Roman',serif" font-weight="bold">#6</text>
</svg>
</body></html>
